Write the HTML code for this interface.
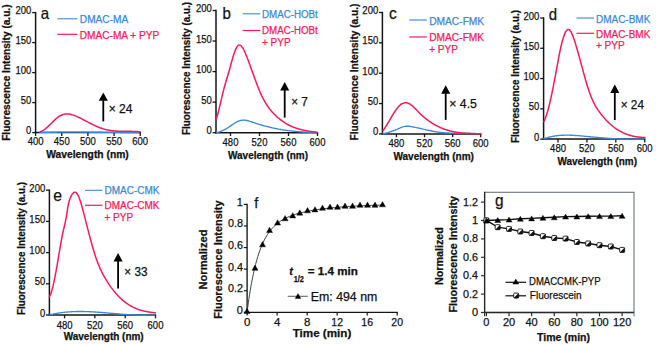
<!DOCTYPE html>
<html><head><meta charset="utf-8"><style>html,body{margin:0;padding:0;background:#fff;} svg{display:block;font-family:"Liberation Sans",sans-serif;}</style></head>
<body><svg width="656" height="345" viewBox="0 0 656 345">
<rect width="656" height="345" fill="#fff"/>
<line x1="35.60" y1="11.90" x2="35.60" y2="133.30" stroke="#151515" stroke-width="1.5"/>
<line x1="34.90" y1="132.60" x2="140.90" y2="132.60" stroke="#151515" stroke-width="1.5"/>
<line x1="32.20" y1="132.60" x2="35.60" y2="132.60" stroke="#151515" stroke-width="1.3"/>
<text x="31.40" y="134.10" font-size="11.5" text-anchor="end" font-weight="normal" fill="#111" stroke="#111" stroke-width="0.25" textLength="5.28" lengthAdjust="spacingAndGlyphs" >0</text>
<line x1="32.20" y1="102.60" x2="35.60" y2="102.60" stroke="#151515" stroke-width="1.3"/>
<text x="31.40" y="104.10" font-size="11.5" text-anchor="end" font-weight="normal" fill="#111" stroke="#111" stroke-width="0.25" textLength="10.56" lengthAdjust="spacingAndGlyphs" >50</text>
<line x1="32.20" y1="72.60" x2="35.60" y2="72.60" stroke="#151515" stroke-width="1.3"/>
<text x="31.40" y="74.10" font-size="11.5" text-anchor="end" font-weight="normal" fill="#111" stroke="#111" stroke-width="0.25" textLength="15.85" lengthAdjust="spacingAndGlyphs" >100</text>
<line x1="32.20" y1="42.60" x2="35.60" y2="42.60" stroke="#151515" stroke-width="1.3"/>
<text x="31.40" y="44.10" font-size="11.5" text-anchor="end" font-weight="normal" fill="#111" stroke="#111" stroke-width="0.25" textLength="15.85" lengthAdjust="spacingAndGlyphs" >150</text>
<line x1="32.20" y1="12.60" x2="35.60" y2="12.60" stroke="#151515" stroke-width="1.3"/>
<text x="31.40" y="14.10" font-size="11.5" text-anchor="end" font-weight="normal" fill="#111" stroke="#111" stroke-width="0.25" textLength="15.85" lengthAdjust="spacingAndGlyphs" >200</text>
<line x1="35.60" y1="132.60" x2="35.60" y2="135.90" stroke="#151515" stroke-width="1.3"/>
<text x="35.60" y="145.40" font-size="11.5" text-anchor="middle" font-weight="normal" fill="#111" stroke="#111" stroke-width="0.25" textLength="15.85" lengthAdjust="spacingAndGlyphs" >400</text>
<line x1="61.75" y1="132.60" x2="61.75" y2="135.90" stroke="#151515" stroke-width="1.3"/>
<text x="61.75" y="145.40" font-size="11.5" text-anchor="middle" font-weight="normal" fill="#111" stroke="#111" stroke-width="0.25" textLength="15.85" lengthAdjust="spacingAndGlyphs" >450</text>
<line x1="87.90" y1="132.60" x2="87.90" y2="135.90" stroke="#151515" stroke-width="1.3"/>
<text x="87.90" y="145.40" font-size="11.5" text-anchor="middle" font-weight="normal" fill="#111" stroke="#111" stroke-width="0.25" textLength="15.85" lengthAdjust="spacingAndGlyphs" >500</text>
<line x1="114.05" y1="132.60" x2="114.05" y2="135.90" stroke="#151515" stroke-width="1.3"/>
<text x="114.05" y="145.40" font-size="11.5" text-anchor="middle" font-weight="normal" fill="#111" stroke="#111" stroke-width="0.25" textLength="15.85" lengthAdjust="spacingAndGlyphs" >550</text>
<line x1="140.20" y1="132.60" x2="140.20" y2="135.90" stroke="#151515" stroke-width="1.3"/>
<text x="140.20" y="145.40" font-size="11.5" text-anchor="middle" font-weight="normal" fill="#111" stroke="#111" stroke-width="0.25" textLength="15.85" lengthAdjust="spacingAndGlyphs" >600</text>
<text x="87.50" y="158.30" font-size="10" text-anchor="middle" font-weight="bold" fill="#111" stroke="#111" stroke-width="0.25" textLength="82.5" lengthAdjust="spacingAndGlyphs" >Wavelength (nm)</text>
<text transform="translate(9.80,72.65) rotate(-90)" font-size="10" text-anchor="middle" font-weight="bold" fill="#111" stroke="#111" stroke-width="0.25" textLength="136.3" lengthAdjust="spacingAndGlyphs">Fluorescence Intensity (a.u.)</text>
<text x="40.80" y="18.80" font-size="16.5" text-anchor="start" font-weight="normal" fill="#111" stroke="#111" stroke-width="0.25" textLength="8.34" lengthAdjust="spacingAndGlyphs" >a</text>
<line x1="57.30" y1="18.80" x2="77.30" y2="18.80" stroke="#3a88d8" stroke-width="1.1"/>
<text x="79.80" y="22.90" font-size="10" text-anchor="start" font-weight="normal" fill="#3a88d8" stroke="#3a88d8" stroke-width="0.25" textLength="48.5" lengthAdjust="spacingAndGlyphs" >DMAC-MA</text>
<line x1="57.30" y1="34.30" x2="77.30" y2="34.30" stroke="#f81a58" stroke-width="1.2"/>
<text x="79.80" y="38.80" font-size="10" text-anchor="start" font-weight="normal" fill="#f81a58" stroke="#f81a58" stroke-width="0.25" textLength="79.5" lengthAdjust="spacingAndGlyphs" >DMAC-MA + PYP</text>
<path d="M40.00,132.51 C40.17,132.50 40.67,132.49 41.00,132.48 C41.33,132.47 41.67,132.46 42.00,132.46 C42.33,132.45 42.67,132.44 43.00,132.43 C43.33,132.42 43.67,132.42 44.00,132.41 C44.33,132.40 44.67,132.39 45.00,132.39 C45.33,132.38 45.67,132.37 46.00,132.37 C46.33,132.36 46.67,132.35 47.00,132.35 C47.33,132.34 47.67,132.33 48.00,132.33 C48.33,132.32 48.67,132.31 49.00,132.31 C49.33,132.30 49.67,132.30 50.00,132.29 C50.33,132.29 50.67,132.28 51.00,132.28 C51.33,132.27 51.67,132.27 52.00,132.26 C52.33,132.26 52.67,132.25 53.00,132.25 C53.33,132.24 53.67,132.24 54.00,132.23 C54.33,132.23 54.67,132.22 55.00,132.22 C55.33,132.22 55.67,132.21 56.00,132.21 C56.33,132.20 56.67,132.20 57.00,132.20 C57.33,132.19 57.67,132.19 58.00,132.19 C58.33,132.18 58.67,132.18 59.00,132.18 C59.33,132.18 59.67,132.17 60.00,132.17 C60.33,132.17 60.67,132.16 61.00,132.16 C61.33,132.16 61.67,132.16 62.00,132.16 C62.33,132.15 62.67,132.15 63.00,132.15 C63.33,132.15 63.67,132.15 64.00,132.14 C64.33,132.14 64.67,132.14 65.00,132.14 C65.33,132.14 65.67,132.14 66.00,132.13 C66.33,132.13 66.67,132.13 67.00,132.13 C67.33,132.13 67.67,132.13 68.00,132.13 C68.33,132.13 68.67,132.13 69.00,132.13 C69.33,132.13 69.67,132.13 70.00,132.13 C70.33,132.12 70.67,132.12 71.00,132.12 C71.33,132.12 71.67,132.12 72.00,132.12 C72.33,132.12 72.67,132.12 73.00,132.12 C73.33,132.12 73.67,132.12 74.00,132.13 C74.33,132.13 74.67,132.13 75.00,132.13 C75.33,132.13 75.67,132.13 76.00,132.13 C76.33,132.13 76.67,132.13 77.00,132.13 C77.33,132.13 77.67,132.13 78.00,132.13 C78.33,132.13 78.67,132.14 79.00,132.14 C79.33,132.14 79.67,132.14 80.00,132.14 C80.33,132.14 80.67,132.14 81.00,132.14 C81.33,132.15 81.67,132.15 82.00,132.15 C82.33,132.15 82.67,132.15 83.00,132.15 C83.33,132.16 83.67,132.16 84.00,132.16 C84.33,132.16 84.67,132.16 85.00,132.16 C85.33,132.17 85.67,132.17 86.00,132.17 C86.33,132.17 86.67,132.18 87.00,132.18 C87.33,132.18 87.67,132.18 88.00,132.18 C88.33,132.19 88.67,132.19 89.00,132.19 C89.33,132.19 89.67,132.20 90.00,132.20 C90.33,132.20 90.67,132.20 91.00,132.21 C91.33,132.21 91.67,132.21 92.00,132.21 C92.33,132.22 92.67,132.22 93.00,132.22 C93.33,132.22 93.67,132.23 94.00,132.23 C94.33,132.23 94.67,132.23 95.00,132.24 C95.33,132.24 95.67,132.24 96.00,132.25 C96.33,132.25 96.67,132.25 97.00,132.25 C97.33,132.26 97.67,132.26 98.00,132.26 C98.33,132.26 98.67,132.27 99.00,132.27 C99.33,132.27 99.67,132.28 100.00,132.28 C100.33,132.28 100.67,132.29 101.00,132.29 C101.33,132.29 101.67,132.29 102.00,132.30 C102.33,132.30 102.67,132.30 103.00,132.31 C103.33,132.31 103.67,132.31 104.00,132.32 C104.33,132.32 104.67,132.32 105.00,132.32 C105.33,132.33 105.67,132.33 106.00,132.33 C106.33,132.34 106.67,132.34 107.00,132.34 C107.33,132.34 107.67,132.35 108.00,132.35 C108.33,132.35 108.67,132.36 109.00,132.36 C109.33,132.36 109.67,132.37 110.00,132.37 C110.33,132.37 110.67,132.37 111.00,132.38 C111.33,132.38 111.67,132.38 112.00,132.39 C112.33,132.39 112.67,132.39 113.00,132.39 C113.33,132.40 113.67,132.40 114.00,132.40 C114.33,132.40 114.67,132.41 115.00,132.41 C115.33,132.41 115.67,132.41 116.00,132.42 C116.33,132.42 116.67,132.42 117.00,132.43 C117.33,132.43 117.67,132.43 118.00,132.43 C118.33,132.43 118.67,132.44 119.00,132.44 C119.33,132.44 119.67,132.44 120.00,132.45 C120.33,132.45 120.67,132.45 121.00,132.45 C121.33,132.45 121.67,132.46 122.00,132.46 C122.33,132.46 122.67,132.46 123.00,132.46 C123.33,132.47 123.67,132.47 124.00,132.47 C124.33,132.47 124.67,132.47 125.00,132.48 C125.33,132.48 125.67,132.48 126.00,132.48 C126.33,132.48 126.67,132.48 127.00,132.49 C127.33,132.49 127.67,132.49 128.00,132.49 C128.33,132.49 128.67,132.49 129.00,132.49 C129.33,132.49 129.67,132.50 130.00,132.50 C130.33,132.50 130.67,132.50 131.00,132.50 C131.33,132.50 131.67,132.50 132.00,132.50 C132.33,132.50 132.67,132.50 133.00,132.50 C133.33,132.50 133.67,132.50 134.00,132.50 C134.33,132.50 134.67,132.50 135.00,132.50 C135.33,132.50 135.67,132.51 136.00,132.51 C136.33,132.50 136.67,132.50 137.00,132.50 C137.33,132.50 137.67,132.50 138.00,132.50 C138.33,132.50 138.83,132.50 139.00,132.50" fill="none" stroke="#3a88d8" stroke-width="1.35" stroke-linejoin="round" stroke-linecap="round"/>
<path d="M40.40,131.63 C40.52,131.59 40.88,131.48 41.12,131.39 C41.35,131.30 41.59,131.20 41.83,131.09 C42.07,130.98 42.31,130.86 42.55,130.73 C42.78,130.60 43.02,130.46 43.26,130.32 C43.50,130.17 43.74,130.02 43.98,129.86 C44.21,129.69 44.45,129.52 44.69,129.35 C44.93,129.17 45.17,128.99 45.41,128.80 C45.64,128.61 45.88,128.42 46.12,128.22 C46.36,128.02 46.60,127.81 46.84,127.60 C47.07,127.39 47.31,127.18 47.55,126.96 C47.79,126.74 48.03,126.52 48.27,126.29 C48.50,126.07 48.74,125.84 48.98,125.61 C49.22,125.38 49.46,125.14 49.70,124.91 C49.93,124.67 50.17,124.44 50.41,124.20 C50.65,123.96 50.89,123.72 51.13,123.48 C51.36,123.25 51.60,123.01 51.84,122.77 C52.08,122.53 52.32,122.29 52.56,122.05 C52.80,121.82 53.03,121.58 53.27,121.35 C53.51,121.11 53.75,120.88 53.99,120.65 C54.23,120.42 54.46,120.19 54.70,119.97 C54.94,119.75 55.18,119.53 55.42,119.31 C55.66,119.09 55.89,118.88 56.13,118.68 C56.37,118.47 56.61,118.27 56.85,118.07 C57.09,117.87 57.32,117.68 57.56,117.49 C57.80,117.31 58.04,117.13 58.28,116.96 C58.52,116.79 58.75,116.62 58.99,116.46 C59.23,116.30 59.47,116.15 59.71,116.01 C59.95,115.87 60.18,115.74 60.42,115.61 C60.66,115.49 60.90,115.37 61.14,115.26 C61.38,115.15 61.61,115.05 61.85,114.95 C62.09,114.86 62.33,114.77 62.57,114.69 C62.81,114.61 63.05,114.54 63.28,114.47 C63.52,114.41 63.76,114.35 64.00,114.30 C64.24,114.24 64.48,114.20 64.71,114.16 C64.95,114.12 65.19,114.09 65.43,114.06 C65.67,114.03 65.91,114.01 66.14,114.00 C66.38,113.99 66.62,113.98 66.86,113.97 C67.10,113.97 67.34,113.97 67.57,113.98 C67.81,113.99 68.05,114.00 68.29,114.02 C68.53,114.04 68.77,114.07 69.00,114.09 C69.24,114.12 69.48,114.16 69.72,114.20 C69.96,114.23 70.20,114.28 70.43,114.32 C70.67,114.37 70.91,114.42 71.15,114.48 C71.39,114.54 71.63,114.60 71.86,114.66 C72.10,114.72 72.34,114.79 72.58,114.86 C72.82,114.93 73.06,115.01 73.29,115.09 C73.53,115.17 73.77,115.25 74.01,115.33 C74.25,115.42 74.49,115.51 74.73,115.60 C74.96,115.69 75.20,115.78 75.44,115.88 C75.68,115.97 75.92,116.07 76.16,116.17 C76.39,116.28 76.63,116.38 76.87,116.49 C77.11,116.59 77.35,116.70 77.59,116.81 C77.82,116.92 78.06,117.03 78.30,117.14 C78.54,117.26 78.78,117.37 79.02,117.49 C79.25,117.60 79.49,117.72 79.73,117.84 C79.97,117.96 80.21,118.08 80.45,118.20 C80.68,118.32 80.92,118.44 81.16,118.56 C81.40,118.68 81.64,118.80 81.88,118.92 C82.11,119.05 82.35,119.17 82.59,119.29 C82.83,119.42 83.07,119.54 83.31,119.67 C83.54,119.79 83.78,119.91 84.02,120.04 C84.26,120.16 84.50,120.29 84.74,120.41 C84.98,120.54 85.21,120.67 85.45,120.79 C85.69,120.92 85.93,121.04 86.17,121.17 C86.41,121.29 86.64,121.42 86.88,121.54 C87.12,121.67 87.36,121.79 87.60,121.92 C87.84,122.04 88.07,122.17 88.31,122.29 C88.55,122.42 88.79,122.54 89.03,122.66 C89.27,122.79 89.50,122.91 89.74,123.03 C89.98,123.16 90.22,123.28 90.46,123.40 C90.70,123.52 90.93,123.64 91.17,123.76 C91.41,123.88 91.65,124.00 91.89,124.12 C92.13,124.24 92.36,124.36 92.60,124.48 C92.84,124.60 93.08,124.71 93.32,124.83 C93.56,124.94 93.79,125.06 94.03,125.17 C94.27,125.29 94.51,125.40 94.75,125.51 C94.99,125.62 95.22,125.73 95.46,125.84 C95.70,125.95 95.94,126.06 96.18,126.17 C96.42,126.27 96.66,126.38 96.89,126.48 C97.13,126.59 97.37,126.69 97.61,126.79 C97.85,126.89 98.09,126.99 98.32,127.09 C98.56,127.19 98.80,127.28 99.04,127.38 C99.28,127.47 99.52,127.57 99.75,127.66 C99.99,127.75 100.23,127.84 100.47,127.93 C100.71,128.02 100.95,128.10 101.18,128.19 C101.42,128.27 101.66,128.35 101.90,128.43 C102.14,128.51 102.38,128.59 102.61,128.67 C102.85,128.74 103.09,128.82 103.33,128.89 C103.57,128.96 103.81,129.03 104.04,129.10 C104.28,129.17 104.52,129.23 104.76,129.30 C105.00,129.36 105.24,129.42 105.47,129.48 C105.71,129.54 105.95,129.60 106.19,129.65 C106.43,129.71 106.67,129.76 106.91,129.82 C107.14,129.87 107.38,129.92 107.62,129.97 C107.86,130.02 108.10,130.06 108.34,130.11 C108.57,130.15 108.81,130.20 109.05,130.24 C109.29,130.28 109.53,130.32 109.77,130.36 C110.00,130.40 110.24,130.43 110.48,130.47 C110.72,130.51 110.96,130.54 111.20,130.57 C111.43,130.60 111.67,130.64 111.91,130.67 C112.15,130.70 112.39,130.72 112.63,130.75 C112.86,130.78 113.10,130.80 113.34,130.83 C113.58,130.85 113.82,130.88 114.06,130.90 C114.29,130.92 114.53,130.94 114.77,130.96 C115.01,130.98 115.25,131.00 115.49,131.02 C115.72,131.04 115.96,131.05 116.20,131.07 C116.44,131.08 116.68,131.10 116.92,131.11 C117.15,131.13 117.39,131.14 117.63,131.15 C117.87,131.16 118.11,131.18 118.35,131.19 C118.59,131.20 118.82,131.21 119.06,131.21 C119.30,131.22 119.54,131.23 119.78,131.24 C120.02,131.25 120.25,131.25 120.49,131.26 C120.73,131.27 120.97,131.27 121.21,131.28 C121.45,131.28 121.68,131.29 121.92,131.29 C122.16,131.30 122.40,131.30 122.64,131.30 C122.88,131.31 123.11,131.31 123.35,131.31 C123.59,131.31 123.83,131.32 124.07,131.32 C124.31,131.32 124.54,131.32 124.78,131.32 C125.02,131.33 125.26,131.33 125.50,131.33 C125.74,131.33 125.97,131.33 126.21,131.33 C126.45,131.33 126.69,131.33 126.93,131.33 C127.17,131.34 127.40,131.34 127.64,131.34 C127.88,131.34 128.12,131.34 128.36,131.34 C128.60,131.34 128.84,131.34 129.07,131.34 C129.31,131.35 129.55,131.35 129.79,131.35 C130.03,131.35 130.27,131.35 130.50,131.36 C130.74,131.36 130.98,131.36 131.22,131.36 C131.46,131.37 131.70,131.37 131.93,131.37 C132.17,131.38 132.41,131.38 132.65,131.39 C132.89,131.39 133.13,131.40 133.36,131.40 C133.60,131.41 133.84,131.42 134.08,131.42 C134.32,131.43 134.56,131.44 134.79,131.45 C135.03,131.46 135.27,131.46 135.51,131.47 C135.75,131.48 135.99,131.50 136.22,131.51 C136.46,131.52 136.70,131.53 136.94,131.54 C137.18,131.56 137.42,131.57 137.65,131.59 C137.89,131.60 138.13,131.62 138.37,131.64 C138.61,131.65 138.85,131.67 139.08,131.69 C139.32,131.71 139.68,131.74 139.80,131.75" fill="none" stroke="#f81a58" stroke-width="1.5" stroke-linejoin="round" stroke-linecap="round"/>
<line x1="103.30" y1="100.30" x2="103.30" y2="121.40" stroke="#000" stroke-width="1.8"/>
<path d="M103.30,92.40 L107.85,100.80 L98.75,100.80 Z" fill="#000"/>
<text x="108.70" y="112.60" font-size="12" text-anchor="start" font-weight="normal" fill="#111" stroke="#111" stroke-width="0.25" textLength="23.8" lengthAdjust="spacingAndGlyphs" >× 24</text>
<line x1="216.00" y1="9.80" x2="216.00" y2="133.40" stroke="#151515" stroke-width="1.5"/>
<line x1="215.30" y1="132.70" x2="318.20" y2="132.70" stroke="#151515" stroke-width="1.5"/>
<line x1="212.60" y1="132.70" x2="216.00" y2="132.70" stroke="#151515" stroke-width="1.3"/>
<text x="211.80" y="134.20" font-size="11.5" text-anchor="end" font-weight="normal" fill="#111" stroke="#111" stroke-width="0.25" textLength="5.28" lengthAdjust="spacingAndGlyphs" >0</text>
<line x1="212.60" y1="102.15" x2="216.00" y2="102.15" stroke="#151515" stroke-width="1.3"/>
<text x="211.80" y="103.65" font-size="11.5" text-anchor="end" font-weight="normal" fill="#111" stroke="#111" stroke-width="0.25" textLength="10.56" lengthAdjust="spacingAndGlyphs" >50</text>
<line x1="212.60" y1="71.60" x2="216.00" y2="71.60" stroke="#151515" stroke-width="1.3"/>
<text x="211.80" y="73.10" font-size="11.5" text-anchor="end" font-weight="normal" fill="#111" stroke="#111" stroke-width="0.25" textLength="15.85" lengthAdjust="spacingAndGlyphs" >100</text>
<line x1="212.60" y1="41.05" x2="216.00" y2="41.05" stroke="#151515" stroke-width="1.3"/>
<text x="211.80" y="42.55" font-size="11.5" text-anchor="end" font-weight="normal" fill="#111" stroke="#111" stroke-width="0.25" textLength="15.85" lengthAdjust="spacingAndGlyphs" >150</text>
<line x1="212.60" y1="10.50" x2="216.00" y2="10.50" stroke="#151515" stroke-width="1.3"/>
<text x="211.80" y="12.00" font-size="11.5" text-anchor="end" font-weight="normal" fill="#111" stroke="#111" stroke-width="0.25" textLength="15.85" lengthAdjust="spacingAndGlyphs" >200</text>
<line x1="230.50" y1="132.70" x2="230.50" y2="136.00" stroke="#151515" stroke-width="1.3"/>
<text x="230.50" y="146.20" font-size="11.5" text-anchor="middle" font-weight="normal" fill="#111" stroke="#111" stroke-width="0.25" textLength="15.85" lengthAdjust="spacingAndGlyphs" >480</text>
<line x1="259.50" y1="132.70" x2="259.50" y2="136.00" stroke="#151515" stroke-width="1.3"/>
<text x="259.50" y="146.20" font-size="11.5" text-anchor="middle" font-weight="normal" fill="#111" stroke="#111" stroke-width="0.25" textLength="15.85" lengthAdjust="spacingAndGlyphs" >520</text>
<line x1="288.50" y1="132.70" x2="288.50" y2="136.00" stroke="#151515" stroke-width="1.3"/>
<text x="288.50" y="146.20" font-size="11.5" text-anchor="middle" font-weight="normal" fill="#111" stroke="#111" stroke-width="0.25" textLength="15.85" lengthAdjust="spacingAndGlyphs" >560</text>
<line x1="317.50" y1="132.70" x2="317.50" y2="136.00" stroke="#151515" stroke-width="1.3"/>
<text x="317.50" y="146.20" font-size="11.5" text-anchor="middle" font-weight="normal" fill="#111" stroke="#111" stroke-width="0.25" textLength="15.85" lengthAdjust="spacingAndGlyphs" >600</text>
<text x="268.00" y="159.00" font-size="10" text-anchor="middle" font-weight="bold" fill="#111" stroke="#111" stroke-width="0.25" textLength="80" lengthAdjust="spacingAndGlyphs" >Wavelength (nm)</text>
<text transform="translate(190.40,68.50) rotate(-90)" font-size="10" text-anchor="middle" font-weight="bold" fill="#111" stroke="#111" stroke-width="0.25" textLength="133.1" lengthAdjust="spacingAndGlyphs">Fluorescence Intensity (a.u.)</text>
<text x="222.50" y="19.40" font-size="16" text-anchor="start" font-weight="normal" fill="#111" stroke="#111" stroke-width="0.25" textLength="8.34" lengthAdjust="spacingAndGlyphs" >b</text>
<line x1="242.70" y1="13.80" x2="260.30" y2="13.80" stroke="#3a88d8" stroke-width="1.1"/>
<text x="262.00" y="18.40" font-size="10" text-anchor="start" font-weight="normal" fill="#3a88d8" stroke="#3a88d8" stroke-width="0.25" textLength="55.75" lengthAdjust="spacingAndGlyphs" >DMAC-HOBt</text>
<line x1="242.70" y1="30.50" x2="260.30" y2="30.50" stroke="#f81a58" stroke-width="1.2"/>
<text x="262.00" y="34.30" font-size="10" text-anchor="start" font-weight="normal" fill="#f81a58" stroke="#f81a58" stroke-width="0.25" textLength="55.75" lengthAdjust="spacingAndGlyphs" >DMAC-HOBt</text>
<text x="262.00" y="46.00" font-size="10" text-anchor="start" font-weight="normal" fill="#f81a58" stroke="#f81a58" stroke-width="0.25" >+ PYP</text>
<path d="M216.50,132.48 C216.67,132.45 217.18,132.37 217.52,132.31 C217.86,132.24 218.20,132.17 218.54,132.08 C218.88,132.00 219.22,131.91 219.55,131.80 C219.89,131.70 220.23,131.59 220.57,131.47 C220.91,131.35 221.25,131.23 221.59,131.09 C221.93,130.96 222.27,130.81 222.61,130.66 C222.95,130.51 223.29,130.35 223.63,130.19 C223.97,130.03 224.31,129.85 224.65,129.67 C224.98,129.50 225.32,129.31 225.66,129.12 C226.00,128.93 226.34,128.73 226.68,128.52 C227.02,128.32 227.36,128.11 227.70,127.89 C228.04,127.68 228.38,127.45 228.72,127.23 C229.06,127.00 229.40,126.77 229.74,126.54 C230.08,126.31 230.42,126.07 230.75,125.83 C231.09,125.60 231.43,125.36 231.77,125.12 C232.11,124.89 232.45,124.65 232.79,124.42 C233.13,124.19 233.47,123.96 233.81,123.74 C234.15,123.52 234.49,123.30 234.83,123.08 C235.17,122.87 235.51,122.67 235.85,122.47 C236.18,122.27 236.52,122.08 236.86,121.90 C237.20,121.73 237.54,121.56 237.88,121.40 C238.22,121.25 238.56,121.10 238.90,120.97 C239.24,120.84 239.58,120.73 239.92,120.63 C240.26,120.53 240.60,120.44 240.94,120.37 C241.28,120.30 241.62,120.25 241.95,120.21 C242.29,120.17 242.63,120.15 242.97,120.14 C243.31,120.13 243.65,120.13 243.99,120.14 C244.33,120.15 244.67,120.18 245.01,120.21 C245.35,120.24 245.69,120.29 246.03,120.34 C246.37,120.40 246.71,120.46 247.05,120.53 C247.38,120.60 247.72,120.68 248.06,120.76 C248.40,120.85 248.74,120.94 249.08,121.03 C249.42,121.13 249.76,121.23 250.10,121.34 C250.44,121.44 250.78,121.55 251.12,121.66 C251.46,121.78 251.80,121.89 252.14,122.01 C252.48,122.12 252.82,122.24 253.15,122.36 C253.49,122.47 253.83,122.59 254.17,122.71 C254.51,122.82 254.85,122.94 255.19,123.05 C255.53,123.17 255.87,123.28 256.21,123.39 C256.55,123.50 256.89,123.61 257.23,123.72 C257.57,123.83 257.91,123.94 258.25,124.05 C258.58,124.15 258.92,124.26 259.26,124.36 C259.60,124.47 259.94,124.57 260.28,124.67 C260.62,124.77 260.96,124.88 261.30,124.98 C261.64,125.08 261.98,125.17 262.32,125.27 C262.66,125.37 263.00,125.47 263.34,125.56 C263.68,125.66 264.02,125.75 264.35,125.84 C264.69,125.94 265.03,126.03 265.37,126.12 C265.71,126.21 266.05,126.30 266.39,126.39 C266.73,126.48 267.07,126.56 267.41,126.65 C267.75,126.73 268.09,126.82 268.43,126.90 C268.77,126.99 269.11,127.07 269.45,127.15 C269.78,127.23 270.12,127.32 270.46,127.40 C270.80,127.48 271.14,127.55 271.48,127.63 C271.82,127.71 272.16,127.79 272.50,127.86 C272.84,127.94 273.18,128.01 273.52,128.08 C273.86,128.16 274.20,128.23 274.54,128.30 C274.88,128.37 275.22,128.44 275.55,128.51 C275.89,128.58 276.23,128.65 276.57,128.72 C276.91,128.78 277.25,128.85 277.59,128.91 C277.93,128.98 278.27,129.04 278.61,129.11 C278.95,129.17 279.29,129.23 279.63,129.29 C279.97,129.35 280.31,129.41 280.65,129.47 C280.98,129.53 281.32,129.59 281.66,129.65 C282.00,129.70 282.34,129.76 282.68,129.81 C283.02,129.87 283.36,129.92 283.70,129.98 C284.04,130.03 284.38,130.08 284.72,130.13 C285.06,130.19 285.40,130.24 285.74,130.28 C286.08,130.33 286.42,130.38 286.75,130.43 C287.09,130.48 287.43,130.52 287.77,130.57 C288.11,130.62 288.45,130.66 288.79,130.70 C289.13,130.75 289.47,130.79 289.81,130.83 C290.15,130.87 290.49,130.91 290.83,130.95 C291.17,130.99 291.51,131.03 291.85,131.07 C292.18,131.11 292.52,131.15 292.86,131.18 C293.20,131.22 293.54,131.26 293.88,131.29 C294.22,131.33 294.56,131.36 294.90,131.39 C295.24,131.43 295.58,131.46 295.92,131.49 C296.26,131.52 296.60,131.55 296.94,131.58 C297.28,131.61 297.62,131.64 297.95,131.67 C298.29,131.69 298.63,131.72 298.97,131.75 C299.31,131.77 299.65,131.80 299.99,131.82 C300.33,131.85 300.67,131.87 301.01,131.89 C301.35,131.92 301.69,131.94 302.03,131.96 C302.37,131.98 302.71,132.00 303.05,132.02 C303.38,132.04 303.72,132.06 304.06,132.08 C304.40,132.09 304.74,132.11 305.08,132.13 C305.42,132.14 305.76,132.16 306.10,132.17 C306.44,132.19 306.78,132.20 307.12,132.22 C307.46,132.23 307.80,132.24 308.14,132.25 C308.48,132.27 308.82,132.28 309.15,132.29 C309.49,132.30 309.83,132.31 310.17,132.31 C310.51,132.32 310.85,132.33 311.19,132.34 C311.53,132.35 311.87,132.35 312.21,132.36 C312.55,132.36 312.89,132.37 313.23,132.37 C313.57,132.38 313.91,132.38 314.25,132.38 C314.58,132.39 314.92,132.39 315.26,132.39 C315.60,132.39 315.94,132.39 316.28,132.39 C316.62,132.39 317.13,132.39 317.30,132.39" fill="none" stroke="#3a88d8" stroke-width="1.35" stroke-linejoin="round" stroke-linecap="round"/>
<path d="M216.00,120.02 C216.12,119.64 216.48,118.55 216.73,117.76 C216.97,116.97 217.21,116.13 217.45,115.26 C217.70,114.39 217.94,113.48 218.18,112.56 C218.42,111.63 218.66,110.67 218.91,109.69 C219.15,108.72 219.39,107.71 219.63,106.71 C219.88,105.70 220.12,104.67 220.36,103.64 C220.60,102.61 220.84,101.57 221.09,100.54 C221.33,99.50 221.57,98.46 221.81,97.43 C222.06,96.41 222.30,95.38 222.54,94.38 C222.78,93.37 223.02,92.37 223.27,91.40 C223.51,90.43 223.75,89.47 223.99,88.55 C224.24,87.62 224.48,86.72 224.72,85.84 C224.96,84.96 225.20,84.10 225.45,83.25 C225.69,82.40 225.93,81.57 226.17,80.74 C226.41,79.92 226.66,79.10 226.90,78.29 C227.14,77.48 227.38,76.68 227.63,75.87 C227.87,75.06 228.11,74.26 228.35,73.45 C228.59,72.63 228.84,71.82 229.08,70.99 C229.32,70.16 229.56,69.33 229.81,68.47 C230.05,67.62 230.29,66.75 230.53,65.86 C230.77,64.98 231.02,64.07 231.26,63.18 C231.50,62.28 231.74,61.38 231.99,60.50 C232.23,59.62 232.47,58.76 232.71,57.92 C232.95,57.09 233.20,56.27 233.44,55.49 C233.68,54.71 233.92,53.96 234.17,53.25 C234.41,52.53 234.65,51.85 234.89,51.21 C235.13,50.57 235.38,49.96 235.62,49.41 C235.86,48.85 236.10,48.34 236.35,47.88 C236.59,47.42 236.83,47.01 237.07,46.65 C237.31,46.30 237.56,45.99 237.80,45.75 C238.04,45.51 238.28,45.33 238.53,45.20 C238.77,45.08 239.01,45.01 239.25,45.00 C239.49,44.98 239.74,45.02 239.98,45.10 C240.22,45.19 240.46,45.33 240.71,45.50 C240.95,45.68 241.19,45.91 241.43,46.17 C241.67,46.43 241.92,46.73 242.16,47.07 C242.40,47.40 242.64,47.78 242.88,48.18 C243.13,48.58 243.37,49.02 243.61,49.48 C243.85,49.94 244.10,50.44 244.34,50.95 C244.58,51.46 244.82,52.00 245.06,52.55 C245.31,53.10 245.55,53.67 245.79,54.26 C246.03,54.84 246.28,55.44 246.52,56.05 C246.76,56.66 247.00,57.28 247.24,57.91 C247.49,58.53 247.73,59.17 247.97,59.81 C248.21,60.45 248.46,61.10 248.70,61.75 C248.94,62.40 249.18,63.06 249.42,63.72 C249.67,64.38 249.91,65.05 250.15,65.72 C250.39,66.39 250.64,67.06 250.88,67.74 C251.12,68.41 251.36,69.09 251.60,69.77 C251.85,70.44 252.09,71.12 252.33,71.80 C252.57,72.48 252.82,73.16 253.06,73.84 C253.30,74.52 253.54,75.19 253.78,75.87 C254.03,76.54 254.27,77.22 254.51,77.88 C254.75,78.55 255.00,79.22 255.24,79.88 C255.48,80.54 255.72,81.20 255.96,81.85 C256.21,82.50 256.45,83.15 256.69,83.78 C256.93,84.42 257.18,85.06 257.42,85.68 C257.66,86.31 257.90,86.92 258.14,87.53 C258.39,88.14 258.63,88.74 258.87,89.33 C259.11,89.92 259.35,90.50 259.60,91.07 C259.84,91.64 260.08,92.20 260.32,92.74 C260.57,93.29 260.81,93.82 261.05,94.35 C261.29,94.87 261.53,95.38 261.78,95.89 C262.02,96.39 262.26,96.88 262.50,97.36 C262.75,97.84 262.99,98.31 263.23,98.78 C263.47,99.24 263.71,99.69 263.96,100.13 C264.20,100.57 264.44,101.00 264.68,101.43 C264.93,101.85 265.17,102.26 265.41,102.67 C265.65,103.07 265.89,103.47 266.14,103.86 C266.38,104.25 266.62,104.63 266.86,105.00 C267.11,105.37 267.35,105.73 267.59,106.09 C267.83,106.44 268.07,106.79 268.32,107.13 C268.56,107.47 268.80,107.80 269.04,108.13 C269.29,108.46 269.53,108.78 269.77,109.09 C270.01,109.40 270.25,109.71 270.50,110.01 C270.74,110.31 270.98,110.60 271.22,110.89 C271.47,111.18 271.71,111.46 271.95,111.74 C272.19,112.01 272.43,112.28 272.68,112.55 C272.92,112.82 273.16,113.08 273.40,113.33 C273.65,113.59 273.89,113.84 274.13,114.09 C274.37,114.34 274.61,114.58 274.86,114.82 C275.10,115.06 275.34,115.29 275.58,115.52 C275.82,115.75 276.07,115.98 276.31,116.20 C276.55,116.43 276.79,116.65 277.04,116.87 C277.28,117.08 277.52,117.30 277.76,117.51 C278.00,117.72 278.25,117.93 278.49,118.13 C278.73,118.34 278.97,118.54 279.22,118.73 C279.46,118.93 279.70,119.13 279.94,119.32 C280.18,119.51 280.43,119.70 280.67,119.88 C280.91,120.07 281.15,120.25 281.40,120.43 C281.64,120.61 281.88,120.79 282.12,120.96 C282.36,121.14 282.61,121.31 282.85,121.47 C283.09,121.64 283.33,121.81 283.58,121.97 C283.82,122.13 284.06,122.29 284.30,122.45 C284.54,122.60 284.79,122.76 285.03,122.91 C285.27,123.06 285.51,123.21 285.76,123.35 C286.00,123.50 286.24,123.64 286.48,123.78 C286.72,123.92 286.97,124.06 287.21,124.20 C287.45,124.33 287.69,124.47 287.94,124.60 C288.18,124.73 288.42,124.86 288.66,124.98 C288.90,125.11 289.15,125.23 289.39,125.35 C289.63,125.47 289.87,125.59 290.12,125.71 C290.36,125.82 290.60,125.94 290.84,126.05 C291.08,126.16 291.33,126.27 291.57,126.38 C291.81,126.49 292.05,126.59 292.29,126.69 C292.54,126.80 292.78,126.90 293.02,127.00 C293.26,127.10 293.51,127.19 293.75,127.29 C293.99,127.38 294.23,127.48 294.47,127.57 C294.72,127.66 294.96,127.75 295.20,127.83 C295.44,127.92 295.69,128.01 295.93,128.09 C296.17,128.17 296.41,128.26 296.65,128.34 C296.90,128.42 297.14,128.49 297.38,128.57 C297.62,128.65 297.87,128.72 298.11,128.80 C298.35,128.87 298.59,128.94 298.83,129.01 C299.08,129.08 299.32,129.15 299.56,129.22 C299.80,129.28 300.05,129.35 300.29,129.41 C300.53,129.48 300.77,129.54 301.01,129.60 C301.26,129.66 301.50,129.72 301.74,129.78 C301.98,129.84 302.23,129.89 302.47,129.95 C302.71,130.00 302.95,130.06 303.19,130.11 C303.44,130.17 303.68,130.22 303.92,130.27 C304.16,130.32 304.41,130.37 304.65,130.42 C304.89,130.46 305.13,130.51 305.37,130.56 C305.62,130.60 305.86,130.65 306.10,130.69 C306.34,130.74 306.59,130.78 306.83,130.82 C307.07,130.87 307.31,130.91 307.55,130.95 C307.80,130.99 308.04,131.03 308.28,131.07 C308.52,131.10 308.76,131.14 309.01,131.18 C309.25,131.22 309.49,131.25 309.73,131.29 C309.98,131.32 310.22,131.36 310.46,131.39 C310.70,131.43 310.94,131.46 311.19,131.49 C311.43,131.53 311.67,131.56 311.91,131.59 C312.16,131.62 312.40,131.66 312.64,131.69 C312.88,131.72 313.12,131.75 313.37,131.78 C313.61,131.81 313.85,131.84 314.09,131.87 C314.34,131.90 314.58,131.93 314.82,131.95 C315.06,131.98 315.30,132.01 315.55,132.04 C315.79,132.07 316.03,132.09 316.27,132.12 C316.52,132.15 316.88,132.19 317.00,132.20" fill="none" stroke="#f81a58" stroke-width="1.5" stroke-linejoin="round" stroke-linecap="round"/>
<line x1="284.70" y1="89.90" x2="284.70" y2="117.60" stroke="#000" stroke-width="1.8"/>
<path d="M284.70,82.00 L289.25,90.40 L280.15,90.40 Z" fill="#000"/>
<text x="291.20" y="106.00" font-size="12" text-anchor="start" font-weight="normal" fill="#111" stroke="#111" stroke-width="0.25" textLength="16.6" lengthAdjust="spacingAndGlyphs" >× 7</text>
<line x1="382.40" y1="11.80" x2="382.40" y2="134.60" stroke="#151515" stroke-width="1.5"/>
<line x1="381.70" y1="133.90" x2="481.40" y2="133.90" stroke="#151515" stroke-width="1.5"/>
<line x1="379.00" y1="133.90" x2="382.40" y2="133.90" stroke="#151515" stroke-width="1.3"/>
<text x="378.20" y="135.40" font-size="11.5" text-anchor="end" font-weight="normal" fill="#111" stroke="#111" stroke-width="0.25" textLength="5.28" lengthAdjust="spacingAndGlyphs" >0</text>
<line x1="379.00" y1="103.55" x2="382.40" y2="103.55" stroke="#151515" stroke-width="1.3"/>
<text x="378.20" y="105.05" font-size="11.5" text-anchor="end" font-weight="normal" fill="#111" stroke="#111" stroke-width="0.25" textLength="10.56" lengthAdjust="spacingAndGlyphs" >50</text>
<line x1="379.00" y1="73.20" x2="382.40" y2="73.20" stroke="#151515" stroke-width="1.3"/>
<text x="378.20" y="74.70" font-size="11.5" text-anchor="end" font-weight="normal" fill="#111" stroke="#111" stroke-width="0.25" textLength="15.85" lengthAdjust="spacingAndGlyphs" >100</text>
<line x1="379.00" y1="42.85" x2="382.40" y2="42.85" stroke="#151515" stroke-width="1.3"/>
<text x="378.20" y="44.35" font-size="11.5" text-anchor="end" font-weight="normal" fill="#111" stroke="#111" stroke-width="0.25" textLength="15.85" lengthAdjust="spacingAndGlyphs" >150</text>
<line x1="379.00" y1="12.50" x2="382.40" y2="12.50" stroke="#151515" stroke-width="1.3"/>
<text x="378.20" y="14.00" font-size="11.5" text-anchor="end" font-weight="normal" fill="#111" stroke="#111" stroke-width="0.25" textLength="15.85" lengthAdjust="spacingAndGlyphs" >200</text>
<line x1="396.44" y1="133.90" x2="396.44" y2="137.20" stroke="#151515" stroke-width="1.3"/>
<text x="396.44" y="147.00" font-size="11.5" text-anchor="middle" font-weight="normal" fill="#111" stroke="#111" stroke-width="0.25" textLength="15.85" lengthAdjust="spacingAndGlyphs" >480</text>
<line x1="424.53" y1="133.90" x2="424.53" y2="137.20" stroke="#151515" stroke-width="1.3"/>
<text x="424.53" y="147.00" font-size="11.5" text-anchor="middle" font-weight="normal" fill="#111" stroke="#111" stroke-width="0.25" textLength="15.85" lengthAdjust="spacingAndGlyphs" >520</text>
<line x1="452.61" y1="133.90" x2="452.61" y2="137.20" stroke="#151515" stroke-width="1.3"/>
<text x="452.61" y="147.00" font-size="11.5" text-anchor="middle" font-weight="normal" fill="#111" stroke="#111" stroke-width="0.25" textLength="15.85" lengthAdjust="spacingAndGlyphs" >560</text>
<line x1="480.70" y1="133.90" x2="480.70" y2="137.20" stroke="#151515" stroke-width="1.3"/>
<text x="480.70" y="147.00" font-size="11.5" text-anchor="middle" font-weight="normal" fill="#111" stroke="#111" stroke-width="0.25" textLength="15.85" lengthAdjust="spacingAndGlyphs" >600</text>
<text x="433.70" y="160.30" font-size="10" text-anchor="middle" font-weight="bold" fill="#111" stroke="#111" stroke-width="0.25" textLength="80.5" lengthAdjust="spacingAndGlyphs" >Wavelength (nm)</text>
<text transform="translate(357.90,72.00) rotate(-90)" font-size="10" text-anchor="middle" font-weight="bold" fill="#111" stroke="#111" stroke-width="0.25" textLength="136.9" lengthAdjust="spacingAndGlyphs">Fluorescence Intensity (a.u.)</text>
<text x="389.00" y="18.80" font-size="16.5" text-anchor="start" font-weight="normal" fill="#111" stroke="#111" stroke-width="0.25" textLength="7.7" lengthAdjust="spacingAndGlyphs" >c</text>
<line x1="409.20" y1="20.00" x2="426.80" y2="20.00" stroke="#3a88d8" stroke-width="1.1"/>
<text x="429.20" y="25.00" font-size="10" text-anchor="start" font-weight="normal" fill="#3a88d8" stroke="#3a88d8" stroke-width="0.25" textLength="55" lengthAdjust="spacingAndGlyphs" >DMAC-FMK</text>
<line x1="409.20" y1="37.00" x2="426.80" y2="37.00" stroke="#f81a58" stroke-width="1.2"/>
<text x="429.20" y="41.20" font-size="10" text-anchor="start" font-weight="normal" fill="#f81a58" stroke="#f81a58" stroke-width="0.25" textLength="55" lengthAdjust="spacingAndGlyphs" >DMAC-FMK</text>
<text x="429.20" y="53.00" font-size="10" text-anchor="start" font-weight="normal" fill="#f81a58" stroke="#f81a58" stroke-width="0.25" >+ PYP</text>
<path d="M383.00,133.89 C383.16,133.85 383.66,133.73 383.98,133.64 C384.31,133.56 384.64,133.47 384.97,133.39 C385.29,133.30 385.62,133.21 385.95,133.12 C386.28,133.02 386.60,132.93 386.93,132.83 C387.26,132.74 387.59,132.64 387.91,132.54 C388.24,132.44 388.57,132.34 388.90,132.24 C389.22,132.13 389.55,132.03 389.88,131.92 C390.21,131.81 390.54,131.70 390.86,131.59 C391.19,131.48 391.52,131.37 391.85,131.25 C392.17,131.14 392.50,131.02 392.83,130.90 C393.16,130.78 393.48,130.66 393.81,130.54 C394.14,130.42 394.47,130.29 394.79,130.16 C395.12,130.04 395.45,129.91 395.78,129.78 C396.10,129.65 396.43,129.51 396.76,129.38 C397.09,129.24 397.41,129.10 397.74,128.97 C398.07,128.83 398.40,128.68 398.73,128.54 C399.05,128.40 399.38,128.25 399.71,128.11 C400.04,127.96 400.36,127.81 400.69,127.67 C401.02,127.53 401.35,127.39 401.67,127.26 C402.00,127.13 402.33,127.01 402.66,126.90 C402.98,126.79 403.31,126.68 403.64,126.60 C403.97,126.51 404.29,126.44 404.62,126.39 C404.95,126.33 405.28,126.29 405.61,126.26 C405.93,126.23 406.26,126.21 406.59,126.21 C406.92,126.20 407.24,126.21 407.57,126.22 C407.90,126.23 408.23,126.26 408.55,126.29 C408.88,126.32 409.21,126.35 409.54,126.39 C409.86,126.43 410.19,126.48 410.52,126.53 C410.85,126.58 411.17,126.63 411.50,126.68 C411.83,126.73 412.16,126.79 412.48,126.85 C412.81,126.90 413.14,126.96 413.47,127.02 C413.80,127.08 414.12,127.14 414.45,127.20 C414.78,127.27 415.11,127.33 415.43,127.40 C415.76,127.46 416.09,127.53 416.42,127.60 C416.74,127.67 417.07,127.74 417.40,127.81 C417.73,127.88 418.05,127.95 418.38,128.02 C418.71,128.09 419.04,128.17 419.36,128.24 C419.69,128.31 420.02,128.39 420.35,128.46 C420.68,128.54 421.00,128.61 421.33,128.69 C421.66,128.76 421.99,128.84 422.31,128.92 C422.64,128.99 422.97,129.07 423.30,129.15 C423.62,129.22 423.95,129.30 424.28,129.38 C424.61,129.45 424.93,129.53 425.26,129.61 C425.59,129.68 425.92,129.76 426.24,129.83 C426.57,129.91 426.90,129.99 427.23,130.06 C427.55,130.14 427.88,130.21 428.21,130.28 C428.54,130.36 428.87,130.43 429.19,130.50 C429.52,130.57 429.85,130.65 430.18,130.72 C430.50,130.79 430.83,130.86 431.16,130.92 C431.49,130.99 431.81,131.06 432.14,131.13 C432.47,131.19 432.80,131.26 433.12,131.32 C433.45,131.38 433.78,131.44 434.11,131.50 C434.43,131.56 434.76,131.62 435.09,131.68 C435.42,131.74 435.75,131.79 436.07,131.84 C436.40,131.90 436.73,131.95 437.06,132.00 C437.38,132.05 437.71,132.09 438.04,132.14 C438.37,132.19 438.69,132.23 439.02,132.27 C439.35,132.31 439.68,132.35 440.00,132.39 C440.33,132.43 440.66,132.46 440.99,132.50 C441.31,132.53 441.64,132.56 441.97,132.60 C442.30,132.63 442.62,132.66 442.95,132.68 C443.28,132.71 443.61,132.74 443.94,132.76 C444.26,132.79 444.59,132.81 444.92,132.83 C445.25,132.86 445.57,132.88 445.90,132.90 C446.23,132.92 446.56,132.93 446.88,132.95 C447.21,132.97 447.54,132.98 447.87,133.00 C448.19,133.01 448.52,133.03 448.85,133.04 C449.18,133.05 449.50,133.07 449.83,133.08 C450.16,133.09 450.49,133.10 450.82,133.11 C451.14,133.11 451.47,133.12 451.80,133.13 C452.13,133.14 452.45,133.14 452.78,133.15 C453.11,133.16 453.44,133.16 453.76,133.17 C454.09,133.17 454.42,133.17 454.75,133.18 C455.07,133.18 455.40,133.19 455.73,133.19 C456.06,133.19 456.38,133.19 456.71,133.19 C457.04,133.20 457.37,133.20 457.69,133.20 C458.02,133.20 458.35,133.20 458.68,133.20 C459.01,133.20 459.33,133.20 459.66,133.20 C459.99,133.20 460.32,133.21 460.64,133.21 C460.97,133.21 461.30,133.21 461.63,133.21 C461.95,133.21 462.28,133.21 462.61,133.21 C462.94,133.21 463.26,133.21 463.59,133.21 C463.92,133.21 464.25,133.22 464.57,133.22 C464.90,133.22 465.23,133.22 465.56,133.22 C465.89,133.23 466.21,133.23 466.54,133.23 C466.87,133.24 467.20,133.24 467.52,133.24 C467.85,133.25 468.18,133.25 468.51,133.26 C468.83,133.27 469.16,133.27 469.49,133.28 C469.82,133.29 470.14,133.29 470.47,133.30 C470.80,133.31 471.13,133.32 471.45,133.33 C471.78,133.34 472.11,133.35 472.44,133.37 C472.76,133.38 473.09,133.39 473.42,133.41 C473.75,133.42 474.08,133.44 474.40,133.45 C474.73,133.47 475.06,133.49 475.39,133.51 C475.71,133.53 476.04,133.55 476.37,133.57 C476.70,133.59 477.02,133.62 477.35,133.64 C477.68,133.66 478.01,133.69 478.33,133.72 C478.66,133.75 478.99,133.77 479.32,133.81 C479.64,133.84 480.14,133.89 480.30,133.90" fill="none" stroke="#3a88d8" stroke-width="1.35" stroke-linejoin="round" stroke-linecap="round"/>
<path d="M383.00,130.68 C383.12,130.52 383.47,130.04 383.70,129.71 C383.93,129.38 384.17,129.03 384.40,128.69 C384.63,128.34 384.87,127.99 385.10,127.63 C385.33,127.27 385.57,126.90 385.80,126.53 C386.03,126.16 386.27,125.79 386.50,125.41 C386.73,125.03 386.97,124.64 387.20,124.26 C387.43,123.87 387.67,123.48 387.90,123.09 C388.13,122.70 388.37,122.30 388.60,121.91 C388.83,121.51 389.07,121.11 389.30,120.72 C389.53,120.32 389.77,119.92 390.00,119.52 C390.23,119.13 390.47,118.73 390.70,118.33 C390.93,117.93 391.17,117.54 391.40,117.15 C391.63,116.75 391.87,116.36 392.10,115.97 C392.33,115.58 392.57,115.20 392.80,114.82 C393.03,114.44 393.27,114.06 393.50,113.68 C393.73,113.31 393.97,112.94 394.20,112.58 C394.43,112.22 394.67,111.86 394.90,111.51 C395.13,111.16 395.37,110.81 395.60,110.48 C395.83,110.14 396.07,109.81 396.30,109.49 C396.53,109.16 396.77,108.85 397.00,108.54 C397.23,108.24 397.47,107.94 397.70,107.66 C397.93,107.37 398.17,107.09 398.40,106.83 C398.63,106.56 398.87,106.31 399.10,106.07 C399.33,105.82 399.57,105.59 399.80,105.37 C400.03,105.15 400.27,104.95 400.50,104.75 C400.73,104.56 400.97,104.38 401.20,104.21 C401.43,104.05 401.67,103.90 401.90,103.76 C402.13,103.62 402.37,103.50 402.60,103.39 C402.83,103.28 403.07,103.19 403.30,103.11 C403.53,103.02 403.77,102.96 404.00,102.90 C404.23,102.85 404.47,102.81 404.70,102.78 C404.93,102.75 405.17,102.73 405.40,102.73 C405.63,102.73 405.87,102.74 406.10,102.76 C406.33,102.78 406.57,102.81 406.80,102.85 C407.03,102.90 407.27,102.95 407.50,103.02 C407.73,103.09 407.97,103.16 408.20,103.25 C408.43,103.34 408.67,103.44 408.90,103.55 C409.13,103.66 409.37,103.78 409.60,103.91 C409.83,104.04 410.07,104.18 410.30,104.33 C410.53,104.48 410.77,104.64 411.00,104.81 C411.23,104.97 411.47,105.15 411.70,105.34 C411.93,105.52 412.17,105.72 412.40,105.92 C412.63,106.12 412.87,106.33 413.10,106.54 C413.33,106.76 413.57,106.98 413.80,107.20 C414.03,107.43 414.27,107.66 414.50,107.90 C414.73,108.13 414.97,108.37 415.20,108.61 C415.43,108.85 415.67,109.09 415.90,109.34 C416.13,109.58 416.37,109.83 416.60,110.07 C416.83,110.32 417.07,110.57 417.30,110.81 C417.53,111.05 417.77,111.30 418.00,111.54 C418.23,111.78 418.47,112.02 418.70,112.26 C418.93,112.49 419.17,112.73 419.40,112.96 C419.63,113.19 419.87,113.42 420.10,113.64 C420.33,113.87 420.57,114.09 420.80,114.31 C421.03,114.53 421.27,114.75 421.50,114.97 C421.73,115.19 421.97,115.40 422.20,115.61 C422.43,115.82 422.67,116.03 422.90,116.23 C423.13,116.44 423.37,116.64 423.60,116.85 C423.83,117.05 424.07,117.25 424.30,117.44 C424.53,117.64 424.77,117.83 425.00,118.02 C425.23,118.22 425.47,118.41 425.70,118.59 C425.93,118.78 426.17,118.96 426.40,119.15 C426.63,119.33 426.87,119.51 427.10,119.69 C427.33,119.86 427.57,120.04 427.80,120.21 C428.03,120.39 428.27,120.56 428.50,120.73 C428.73,120.90 428.97,121.06 429.20,121.23 C429.43,121.39 429.67,121.55 429.90,121.71 C430.13,121.87 430.37,122.03 430.60,122.19 C430.83,122.34 431.07,122.50 431.30,122.65 C431.53,122.80 431.77,122.95 432.00,123.10 C432.23,123.25 432.47,123.39 432.70,123.54 C432.93,123.68 433.17,123.82 433.40,123.96 C433.63,124.10 433.87,124.24 434.10,124.37 C434.33,124.51 434.57,124.64 434.80,124.77 C435.03,124.90 435.27,125.03 435.50,125.16 C435.73,125.29 435.97,125.42 436.20,125.54 C436.43,125.66 436.67,125.79 436.90,125.91 C437.13,126.03 437.37,126.14 437.60,126.26 C437.83,126.38 438.07,126.49 438.30,126.61 C438.53,126.72 438.77,126.83 439.00,126.94 C439.23,127.05 439.47,127.16 439.70,127.26 C439.93,127.37 440.17,127.47 440.40,127.57 C440.63,127.68 440.87,127.78 441.10,127.88 C441.33,127.97 441.57,128.07 441.80,128.17 C442.03,128.26 442.27,128.36 442.50,128.45 C442.73,128.54 442.97,128.63 443.20,128.72 C443.43,128.81 443.67,128.90 443.90,128.98 C444.13,129.07 444.37,129.16 444.60,129.24 C444.83,129.32 445.07,129.40 445.30,129.48 C445.53,129.56 445.77,129.64 446.00,129.72 C446.23,129.79 446.47,129.87 446.70,129.94 C446.93,130.02 447.17,130.09 447.40,130.16 C447.63,130.23 447.87,130.30 448.10,130.37 C448.33,130.44 448.57,130.51 448.80,130.57 C449.03,130.64 449.27,130.70 449.50,130.76 C449.73,130.83 449.97,130.89 450.20,130.95 C450.43,131.01 450.67,131.07 450.90,131.13 C451.13,131.18 451.37,131.24 451.60,131.29 C451.83,131.35 452.07,131.40 452.30,131.46 C452.53,131.51 452.77,131.56 453.00,131.61 C453.23,131.66 453.47,131.71 453.70,131.76 C453.93,131.81 454.17,131.85 454.40,131.90 C454.63,131.94 454.87,131.99 455.10,132.03 C455.33,132.07 455.57,132.12 455.80,132.16 C456.03,132.20 456.27,132.24 456.50,132.28 C456.73,132.32 456.97,132.36 457.20,132.39 C457.43,132.43 457.67,132.47 457.90,132.50 C458.13,132.54 458.37,132.57 458.60,132.60 C458.83,132.64 459.07,132.67 459.30,132.70 C459.53,132.73 459.77,132.76 460.00,132.79 C460.23,132.82 460.47,132.85 460.70,132.88 C460.93,132.90 461.17,132.93 461.40,132.96 C461.63,132.98 461.87,133.01 462.10,133.03 C462.33,133.06 462.57,133.08 462.80,133.10 C463.03,133.13 463.27,133.15 463.50,133.17 C463.73,133.19 463.97,133.21 464.20,133.23 C464.43,133.25 464.67,133.27 464.90,133.29 C465.13,133.31 465.37,133.32 465.60,133.34 C465.83,133.36 466.07,133.37 466.30,133.39 C466.53,133.41 466.77,133.42 467.00,133.44 C467.23,133.45 467.47,133.46 467.70,133.48 C467.93,133.49 468.17,133.50 468.40,133.51 C468.63,133.53 468.87,133.54 469.10,133.55 C469.33,133.56 469.57,133.57 469.80,133.58 C470.03,133.59 470.27,133.60 470.50,133.61 C470.73,133.62 470.97,133.63 471.20,133.64 C471.43,133.64 471.67,133.65 471.90,133.66 C472.13,133.67 472.37,133.67 472.60,133.68 C472.83,133.69 473.07,133.69 473.30,133.70 C473.53,133.71 473.77,133.71 474.00,133.72 C474.23,133.72 474.47,133.73 474.70,133.73 C474.93,133.74 475.17,133.74 475.40,133.74 C475.63,133.75 475.87,133.75 476.10,133.76 C476.33,133.76 476.57,133.76 476.80,133.77 C477.03,133.77 477.27,133.77 477.50,133.78 C477.73,133.78 477.97,133.78 478.20,133.78 C478.43,133.79 478.67,133.79 478.90,133.79 C479.13,133.79 479.37,133.80 479.60,133.80 C479.83,133.80 480.18,133.80 480.30,133.80" fill="none" stroke="#f81a58" stroke-width="1.5" stroke-linejoin="round" stroke-linecap="round"/>
<line x1="445.70" y1="93.20" x2="445.70" y2="119.90" stroke="#000" stroke-width="1.8"/>
<path d="M445.70,85.30 L450.25,93.70 L441.15,93.70 Z" fill="#000"/>
<text x="449.30" y="107.60" font-size="12" text-anchor="start" font-weight="normal" fill="#111" stroke="#111" stroke-width="0.25" textLength="27.6" lengthAdjust="spacingAndGlyphs" >× 4.5</text>
<line x1="543.60" y1="17.30" x2="543.60" y2="139.80" stroke="#151515" stroke-width="1.5"/>
<line x1="542.90" y1="139.10" x2="645.40" y2="139.10" stroke="#151515" stroke-width="1.5"/>
<line x1="540.20" y1="139.10" x2="543.60" y2="139.10" stroke="#151515" stroke-width="1.3"/>
<text x="539.40" y="140.60" font-size="11.5" text-anchor="end" font-weight="normal" fill="#111" stroke="#111" stroke-width="0.25" textLength="5.28" lengthAdjust="spacingAndGlyphs" >0</text>
<line x1="540.20" y1="108.82" x2="543.60" y2="108.82" stroke="#151515" stroke-width="1.3"/>
<text x="539.40" y="110.32" font-size="11.5" text-anchor="end" font-weight="normal" fill="#111" stroke="#111" stroke-width="0.25" textLength="10.56" lengthAdjust="spacingAndGlyphs" >50</text>
<line x1="540.20" y1="78.55" x2="543.60" y2="78.55" stroke="#151515" stroke-width="1.3"/>
<text x="539.40" y="80.05" font-size="11.5" text-anchor="end" font-weight="normal" fill="#111" stroke="#111" stroke-width="0.25" textLength="15.85" lengthAdjust="spacingAndGlyphs" >100</text>
<line x1="540.20" y1="48.27" x2="543.60" y2="48.27" stroke="#151515" stroke-width="1.3"/>
<text x="539.40" y="49.77" font-size="11.5" text-anchor="end" font-weight="normal" fill="#111" stroke="#111" stroke-width="0.25" textLength="15.85" lengthAdjust="spacingAndGlyphs" >150</text>
<line x1="540.20" y1="18.00" x2="543.60" y2="18.00" stroke="#151515" stroke-width="1.3"/>
<text x="539.40" y="19.50" font-size="11.5" text-anchor="end" font-weight="normal" fill="#111" stroke="#111" stroke-width="0.25" textLength="15.85" lengthAdjust="spacingAndGlyphs" >200</text>
<line x1="558.04" y1="139.10" x2="558.04" y2="142.40" stroke="#151515" stroke-width="1.3"/>
<text x="558.04" y="152.30" font-size="11.5" text-anchor="middle" font-weight="normal" fill="#111" stroke="#111" stroke-width="0.25" textLength="15.85" lengthAdjust="spacingAndGlyphs" >480</text>
<line x1="586.93" y1="139.10" x2="586.93" y2="142.40" stroke="#151515" stroke-width="1.3"/>
<text x="586.93" y="152.30" font-size="11.5" text-anchor="middle" font-weight="normal" fill="#111" stroke="#111" stroke-width="0.25" textLength="15.85" lengthAdjust="spacingAndGlyphs" >520</text>
<line x1="615.81" y1="139.10" x2="615.81" y2="142.40" stroke="#151515" stroke-width="1.3"/>
<text x="615.81" y="152.30" font-size="11.5" text-anchor="middle" font-weight="normal" fill="#111" stroke="#111" stroke-width="0.25" textLength="15.85" lengthAdjust="spacingAndGlyphs" >560</text>
<line x1="644.70" y1="139.10" x2="644.70" y2="142.40" stroke="#151515" stroke-width="1.3"/>
<text x="644.70" y="152.30" font-size="11.5" text-anchor="middle" font-weight="normal" fill="#111" stroke="#111" stroke-width="0.25" textLength="15.85" lengthAdjust="spacingAndGlyphs" >600</text>
<text x="597.20" y="164.50" font-size="10" text-anchor="middle" font-weight="bold" fill="#111" stroke="#111" stroke-width="0.25" textLength="79.5" lengthAdjust="spacingAndGlyphs" >Wavelength (nm)</text>
<text transform="translate(518.50,76.50) rotate(-90)" font-size="10" text-anchor="middle" font-weight="bold" fill="#111" stroke="#111" stroke-width="0.25" textLength="133.1" lengthAdjust="spacingAndGlyphs">Fluorescence Intensity (a.u.)</text>
<text x="548.80" y="20.00" font-size="16" text-anchor="start" font-weight="normal" fill="#111" stroke="#111" stroke-width="0.25" textLength="8.34" lengthAdjust="spacingAndGlyphs" >d</text>
<line x1="576.50" y1="18.00" x2="594.00" y2="18.00" stroke="#3a88d8" stroke-width="1.1"/>
<text x="596.00" y="22.50" font-size="10" text-anchor="start" font-weight="normal" fill="#3a88d8" stroke="#3a88d8" stroke-width="0.25" textLength="54.3" lengthAdjust="spacingAndGlyphs" >DMAC-BMK</text>
<line x1="576.50" y1="33.30" x2="594.00" y2="33.30" stroke="#f81a58" stroke-width="1.2"/>
<text x="596.00" y="37.60" font-size="10" text-anchor="start" font-weight="normal" fill="#f81a58" stroke="#f81a58" stroke-width="0.25" textLength="54.3" lengthAdjust="spacingAndGlyphs" >DMAC-BMK</text>
<text x="596.00" y="48.70" font-size="10" text-anchor="start" font-weight="normal" fill="#f81a58" stroke="#f81a58" stroke-width="0.25" >+ PYP</text>
<path d="M543.60,138.84 C543.77,138.78 544.28,138.59 544.62,138.48 C544.96,138.36 545.30,138.25 545.63,138.14 C545.97,138.03 546.31,137.93 546.65,137.82 C546.99,137.72 547.33,137.62 547.67,137.53 C548.01,137.43 548.35,137.34 548.69,137.25 C549.02,137.16 549.36,137.08 549.70,137.00 C550.04,136.91 550.38,136.84 550.72,136.76 C551.06,136.69 551.40,136.61 551.74,136.54 C552.08,136.47 552.42,136.41 552.75,136.34 C553.09,136.28 553.43,136.22 553.77,136.16 C554.11,136.11 554.45,136.05 554.79,136.00 C555.13,135.95 555.47,135.90 555.81,135.85 C556.15,135.80 556.48,135.76 556.82,135.72 C557.16,135.68 557.50,135.64 557.84,135.60 C558.18,135.57 558.52,135.53 558.86,135.50 C559.20,135.47 559.54,135.44 559.87,135.41 C560.21,135.39 560.55,135.36 560.89,135.34 C561.23,135.32 561.57,135.30 561.91,135.28 C562.25,135.26 562.59,135.25 562.93,135.23 C563.27,135.22 563.60,135.21 563.94,135.20 C564.28,135.19 564.62,135.18 564.96,135.18 C565.30,135.17 565.64,135.17 565.98,135.16 C566.32,135.16 566.66,135.16 566.99,135.16 C567.33,135.16 567.67,135.17 568.01,135.17 C568.35,135.18 568.69,135.18 569.03,135.19 C569.37,135.20 569.71,135.20 570.05,135.22 C570.39,135.23 570.72,135.24 571.06,135.25 C571.40,135.26 571.74,135.28 572.08,135.29 C572.42,135.31 572.76,135.33 573.10,135.34 C573.44,135.36 573.78,135.38 574.12,135.40 C574.45,135.42 574.79,135.44 575.13,135.46 C575.47,135.48 575.81,135.51 576.15,135.53 C576.49,135.55 576.83,135.58 577.17,135.60 C577.51,135.63 577.84,135.66 578.18,135.68 C578.52,135.71 578.86,135.74 579.20,135.76 C579.54,135.79 579.88,135.82 580.22,135.85 C580.56,135.88 580.90,135.91 581.24,135.94 C581.57,135.97 581.91,136.00 582.25,136.03 C582.59,136.06 582.93,136.09 583.27,136.12 C583.61,136.15 583.95,136.18 584.29,136.21 C584.63,136.25 584.96,136.28 585.30,136.31 C585.64,136.34 585.98,136.37 586.32,136.40 C586.66,136.43 587.00,136.47 587.34,136.50 C587.68,136.53 588.02,136.56 588.36,136.59 C588.69,136.62 589.03,136.66 589.37,136.69 C589.71,136.72 590.05,136.75 590.39,136.78 C590.73,136.81 591.07,136.84 591.41,136.88 C591.75,136.91 592.09,136.94 592.42,136.97 C592.76,137.00 593.10,137.03 593.44,137.06 C593.78,137.09 594.12,137.12 594.46,137.15 C594.80,137.19 595.14,137.22 595.48,137.25 C595.81,137.28 596.15,137.31 596.49,137.34 C596.83,137.37 597.17,137.40 597.51,137.43 C597.85,137.46 598.19,137.49 598.53,137.52 C598.87,137.55 599.21,137.57 599.54,137.60 C599.88,137.63 600.22,137.66 600.56,137.69 C600.90,137.72 601.24,137.75 601.58,137.78 C601.92,137.80 602.26,137.83 602.60,137.86 C602.94,137.89 603.27,137.91 603.61,137.94 C603.95,137.97 604.29,137.99 604.63,138.02 C604.97,138.05 605.31,138.07 605.65,138.10 C605.99,138.13 606.33,138.15 606.66,138.18 C607.00,138.20 607.34,138.23 607.68,138.25 C608.02,138.28 608.36,138.30 608.70,138.32 C609.04,138.35 609.38,138.37 609.72,138.39 C610.06,138.42 610.39,138.44 610.73,138.46 C611.07,138.48 611.41,138.50 611.75,138.53 C612.09,138.55 612.43,138.57 612.77,138.59 C613.11,138.61 613.45,138.63 613.78,138.65 C614.12,138.67 614.46,138.69 614.80,138.71 C615.14,138.72 615.48,138.74 615.82,138.76 C616.16,138.78 616.50,138.79 616.84,138.81 C617.18,138.83 617.51,138.84 617.85,138.86 C618.19,138.87 618.53,138.89 618.87,138.90 C619.21,138.92 619.55,138.93 619.89,138.95 C620.23,138.96 620.57,138.97 620.91,138.98 C621.24,139.00 621.58,139.01 621.92,139.02 C622.26,139.03 622.60,139.04 622.94,139.05 C623.28,139.06 623.62,139.07 623.96,139.08 C624.30,139.08 624.63,139.09 624.97,139.10 C625.31,139.11 625.65,139.11 625.99,139.12 C626.33,139.12 626.67,139.13 627.01,139.13 C627.35,139.14 627.69,139.14 628.03,139.14 C628.36,139.15 628.70,139.15 629.04,139.15 C629.38,139.15 629.72,139.15 630.06,139.15 C630.40,139.15 630.74,139.15 631.08,139.15 C631.42,139.15 631.75,139.15 632.09,139.14 C632.43,139.14 632.77,139.14 633.11,139.13 C633.45,139.13 633.79,139.12 634.13,139.11 C634.47,139.11 634.81,139.10 635.15,139.09 C635.48,139.09 635.82,139.08 636.16,139.07 C636.50,139.06 636.84,139.05 637.18,139.03 C637.52,139.02 637.86,139.01 638.20,139.00 C638.54,138.98 638.88,138.97 639.21,138.95 C639.55,138.94 639.89,138.92 640.23,138.91 C640.57,138.89 640.91,138.87 641.25,138.85 C641.59,138.83 641.93,138.81 642.27,138.79 C642.60,138.77 642.94,138.75 643.28,138.73 C643.62,138.70 644.13,138.67 644.30,138.66" fill="none" stroke="#3a88d8" stroke-width="1.35" stroke-linejoin="round" stroke-linecap="round"/>
<path d="M543.90,121.56 C544.02,121.31 544.38,120.59 544.63,120.05 C544.87,119.51 545.11,118.92 545.35,118.29 C545.60,117.67 545.84,117.00 546.08,116.30 C546.32,115.60 546.57,114.86 546.81,114.09 C547.05,113.31 547.29,112.50 547.54,111.66 C547.78,110.82 548.02,109.94 548.26,109.04 C548.51,108.13 548.75,107.19 548.99,106.23 C549.23,105.27 549.48,104.27 549.72,103.25 C549.96,102.23 550.20,101.18 550.45,100.11 C550.69,99.04 550.93,97.94 551.17,96.82 C551.42,95.71 551.66,94.56 551.90,93.40 C552.14,92.24 552.39,91.06 552.63,89.86 C552.87,88.66 553.11,87.44 553.36,86.21 C553.60,84.98 553.84,83.73 554.08,82.46 C554.33,81.20 554.57,79.92 554.81,78.63 C555.05,77.35 555.29,76.04 555.54,74.73 C555.78,73.42 556.02,72.10 556.26,70.78 C556.51,69.46 556.75,68.13 556.99,66.81 C557.23,65.49 557.48,64.17 557.72,62.87 C557.96,61.56 558.20,60.27 558.45,58.99 C558.69,57.72 558.93,56.46 559.17,55.23 C559.42,54.00 559.66,52.79 559.90,51.62 C560.14,50.44 560.39,49.30 560.63,48.19 C560.87,47.09 561.11,46.02 561.36,45.00 C561.60,43.98 561.84,43.00 562.08,42.06 C562.33,41.13 562.57,40.23 562.81,39.39 C563.05,38.55 563.30,37.75 563.54,37.01 C563.78,36.26 564.02,35.56 564.27,34.92 C564.51,34.28 564.75,33.69 564.99,33.15 C565.24,32.61 565.48,32.13 565.72,31.71 C565.96,31.29 566.21,30.92 566.45,30.61 C566.69,30.31 566.93,30.06 567.17,29.87 C567.42,29.69 567.66,29.57 567.90,29.51 C568.14,29.45 568.39,29.46 568.63,29.53 C568.87,29.60 569.11,29.73 569.36,29.92 C569.60,30.11 569.84,30.36 570.08,30.65 C570.33,30.95 570.57,31.30 570.81,31.69 C571.05,32.09 571.30,32.53 571.54,33.01 C571.78,33.50 572.02,34.02 572.27,34.58 C572.51,35.14 572.75,35.74 572.99,36.37 C573.24,37.00 573.48,37.66 573.72,38.35 C573.96,39.03 574.21,39.75 574.45,40.48 C574.69,41.21 574.93,41.97 575.18,42.74 C575.42,43.51 575.66,44.30 575.90,45.10 C576.15,45.90 576.39,46.71 576.63,47.54 C576.87,48.36 577.12,49.20 577.36,50.05 C577.60,50.89 577.84,51.75 578.08,52.61 C578.33,53.48 578.57,54.35 578.81,55.23 C579.05,56.11 579.30,56.99 579.54,57.88 C579.78,58.77 580.02,59.67 580.27,60.56 C580.51,61.46 580.75,62.36 580.99,63.26 C581.24,64.16 581.48,65.06 581.72,65.96 C581.96,66.86 582.21,67.76 582.45,68.66 C582.69,69.56 582.93,70.46 583.18,71.35 C583.42,72.24 583.66,73.13 583.90,74.01 C584.15,74.89 584.39,75.76 584.63,76.63 C584.87,77.50 585.12,78.36 585.36,79.21 C585.60,80.06 585.84,80.90 586.09,81.73 C586.33,82.56 586.57,83.38 586.81,84.18 C587.06,84.99 587.30,85.78 587.54,86.56 C587.78,87.33 588.03,88.10 588.27,88.84 C588.51,89.59 588.75,90.32 588.99,91.03 C589.24,91.74 589.48,92.44 589.72,93.11 C589.96,93.78 590.21,94.44 590.45,95.07 C590.69,95.71 590.93,96.32 591.18,96.92 C591.42,97.52 591.66,98.11 591.90,98.67 C592.15,99.24 592.39,99.78 592.63,100.32 C592.87,100.85 593.12,101.37 593.36,101.87 C593.60,102.38 593.84,102.87 594.09,103.34 C594.33,103.82 594.57,104.28 594.81,104.73 C595.06,105.18 595.30,105.61 595.54,106.04 C595.78,106.47 596.03,106.88 596.27,107.28 C596.51,107.69 596.75,108.08 597.00,108.46 C597.24,108.85 597.48,109.22 597.72,109.59 C597.97,109.95 598.21,110.31 598.45,110.66 C598.69,111.01 598.94,111.35 599.18,111.69 C599.42,112.02 599.66,112.35 599.91,112.67 C600.15,113.00 600.39,113.32 600.63,113.63 C600.87,113.95 601.12,114.25 601.36,114.56 C601.60,114.87 601.84,115.17 602.09,115.47 C602.33,115.76 602.57,116.06 602.81,116.35 C603.06,116.64 603.30,116.93 603.54,117.21 C603.78,117.49 604.03,117.77 604.27,118.05 C604.51,118.32 604.75,118.59 605.00,118.86 C605.24,119.13 605.48,119.39 605.72,119.65 C605.97,119.91 606.21,120.17 606.45,120.42 C606.69,120.68 606.94,120.93 607.18,121.17 C607.42,121.42 607.66,121.66 607.91,121.90 C608.15,122.14 608.39,122.38 608.63,122.61 C608.88,122.84 609.12,123.07 609.36,123.30 C609.60,123.52 609.85,123.74 610.09,123.96 C610.33,124.18 610.57,124.40 610.82,124.61 C611.06,124.82 611.30,125.03 611.54,125.24 C611.78,125.44 612.03,125.64 612.27,125.84 C612.51,126.04 612.75,126.24 613.00,126.43 C613.24,126.62 613.48,126.81 613.72,127.00 C613.97,127.19 614.21,127.37 614.45,127.55 C614.69,127.73 614.94,127.91 615.18,128.08 C615.42,128.26 615.66,128.43 615.91,128.60 C616.15,128.76 616.39,128.93 616.63,129.09 C616.88,129.25 617.12,129.41 617.36,129.57 C617.60,129.73 617.85,129.88 618.09,130.03 C618.33,130.18 618.57,130.33 618.82,130.48 C619.06,130.62 619.30,130.76 619.54,130.90 C619.79,131.04 620.03,131.18 620.27,131.31 C620.51,131.45 620.76,131.58 621.00,131.71 C621.24,131.84 621.48,131.97 621.73,132.09 C621.97,132.21 622.21,132.33 622.45,132.45 C622.69,132.57 622.94,132.69 623.18,132.80 C623.42,132.91 623.66,133.03 623.91,133.13 C624.15,133.24 624.39,133.35 624.63,133.45 C624.88,133.56 625.12,133.66 625.36,133.76 C625.60,133.86 625.85,133.95 626.09,134.05 C626.33,134.14 626.57,134.23 626.82,134.32 C627.06,134.41 627.30,134.50 627.54,134.59 C627.79,134.67 628.03,134.75 628.27,134.83 C628.51,134.92 628.76,134.99 629.00,135.07 C629.24,135.15 629.48,135.22 629.73,135.29 C629.97,135.37 630.21,135.44 630.45,135.50 C630.70,135.57 630.94,135.64 631.18,135.70 C631.42,135.77 631.67,135.83 631.91,135.89 C632.15,135.95 632.39,136.01 632.64,136.07 C632.88,136.12 633.12,136.18 633.36,136.23 C633.61,136.28 633.85,136.33 634.09,136.38 C634.33,136.43 634.57,136.48 634.82,136.52 C635.06,136.57 635.30,136.61 635.54,136.66 C635.79,136.70 636.03,136.74 636.27,136.78 C636.51,136.82 636.76,136.85 637.00,136.89 C637.24,136.92 637.48,136.96 637.73,136.99 C637.97,137.02 638.21,137.05 638.45,137.08 C638.70,137.11 638.94,137.14 639.18,137.17 C639.42,137.19 639.67,137.22 639.91,137.24 C640.15,137.26 640.39,137.29 640.64,137.31 C640.88,137.33 641.12,137.35 641.36,137.36 C641.61,137.38 641.85,137.40 642.09,137.41 C642.33,137.43 642.58,137.44 642.82,137.46 C643.06,137.47 643.30,137.48 643.55,137.49 C643.79,137.50 644.03,137.51 644.27,137.52 C644.52,137.53 644.88,137.54 645.00,137.54" fill="none" stroke="#f81a58" stroke-width="1.5" stroke-linejoin="round" stroke-linecap="round"/>
<line x1="614.80" y1="92.40" x2="614.80" y2="120.10" stroke="#000" stroke-width="1.8"/>
<path d="M614.80,84.50 L619.35,92.90 L610.25,92.90 Z" fill="#000"/>
<text x="620.70" y="108.60" font-size="12" text-anchor="start" font-weight="normal" fill="#111" stroke="#111" stroke-width="0.25" textLength="23.3" lengthAdjust="spacingAndGlyphs" >× 24</text>
<line x1="49.40" y1="189.50" x2="49.40" y2="315.70" stroke="#151515" stroke-width="1.5"/>
<line x1="48.70" y1="315.00" x2="156.20" y2="315.00" stroke="#151515" stroke-width="1.5"/>
<line x1="46.00" y1="315.00" x2="49.40" y2="315.00" stroke="#151515" stroke-width="1.3"/>
<text x="45.20" y="316.50" font-size="11.5" text-anchor="end" font-weight="normal" fill="#111" stroke="#111" stroke-width="0.25" textLength="5.28" lengthAdjust="spacingAndGlyphs" >0</text>
<line x1="46.00" y1="283.80" x2="49.40" y2="283.80" stroke="#151515" stroke-width="1.3"/>
<text x="45.20" y="285.30" font-size="11.5" text-anchor="end" font-weight="normal" fill="#111" stroke="#111" stroke-width="0.25" textLength="10.56" lengthAdjust="spacingAndGlyphs" >50</text>
<line x1="46.00" y1="252.60" x2="49.40" y2="252.60" stroke="#151515" stroke-width="1.3"/>
<text x="45.20" y="254.10" font-size="11.5" text-anchor="end" font-weight="normal" fill="#111" stroke="#111" stroke-width="0.25" textLength="15.85" lengthAdjust="spacingAndGlyphs" >100</text>
<line x1="46.00" y1="221.40" x2="49.40" y2="221.40" stroke="#151515" stroke-width="1.3"/>
<text x="45.20" y="222.90" font-size="11.5" text-anchor="end" font-weight="normal" fill="#111" stroke="#111" stroke-width="0.25" textLength="15.85" lengthAdjust="spacingAndGlyphs" >150</text>
<line x1="46.00" y1="190.20" x2="49.40" y2="190.20" stroke="#151515" stroke-width="1.3"/>
<text x="45.20" y="191.70" font-size="11.5" text-anchor="end" font-weight="normal" fill="#111" stroke="#111" stroke-width="0.25" textLength="15.85" lengthAdjust="spacingAndGlyphs" >200</text>
<line x1="64.56" y1="315.00" x2="64.56" y2="318.30" stroke="#151515" stroke-width="1.3"/>
<text x="64.56" y="328.60" font-size="11.5" text-anchor="middle" font-weight="normal" fill="#111" stroke="#111" stroke-width="0.25" textLength="15.85" lengthAdjust="spacingAndGlyphs" >480</text>
<line x1="94.87" y1="315.00" x2="94.87" y2="318.30" stroke="#151515" stroke-width="1.3"/>
<text x="94.87" y="328.60" font-size="11.5" text-anchor="middle" font-weight="normal" fill="#111" stroke="#111" stroke-width="0.25" textLength="15.85" lengthAdjust="spacingAndGlyphs" >520</text>
<line x1="125.19" y1="315.00" x2="125.19" y2="318.30" stroke="#151515" stroke-width="1.3"/>
<text x="125.19" y="328.60" font-size="11.5" text-anchor="middle" font-weight="normal" fill="#111" stroke="#111" stroke-width="0.25" textLength="15.85" lengthAdjust="spacingAndGlyphs" >560</text>
<line x1="155.50" y1="315.00" x2="155.50" y2="318.30" stroke="#151515" stroke-width="1.3"/>
<text x="155.50" y="328.60" font-size="11.5" text-anchor="middle" font-weight="normal" fill="#111" stroke="#111" stroke-width="0.25" textLength="15.85" lengthAdjust="spacingAndGlyphs" >600</text>
<text x="103.70" y="340.20" font-size="10" text-anchor="middle" font-weight="bold" fill="#111" stroke="#111" stroke-width="0.25" textLength="80" lengthAdjust="spacingAndGlyphs" >Wavelength (nm)</text>
<text transform="translate(25.00,248.50) rotate(-90)" font-size="10" text-anchor="middle" font-weight="bold" fill="#111" stroke="#111" stroke-width="0.25" textLength="132.9" lengthAdjust="spacingAndGlyphs">Fluorescence Intensity (a.u.)</text>
<text x="53.30" y="201.10" font-size="16.5" text-anchor="start" font-weight="normal" fill="#111" stroke="#111" stroke-width="0.25" textLength="8.8" lengthAdjust="spacingAndGlyphs" >e</text>
<line x1="85.00" y1="190.30" x2="102.40" y2="190.30" stroke="#3a88d8" stroke-width="1.1"/>
<text x="104.50" y="194.30" font-size="10" text-anchor="start" font-weight="normal" fill="#3a88d8" stroke="#3a88d8" stroke-width="0.25" textLength="55" lengthAdjust="spacingAndGlyphs" >DMAC-CMK</text>
<line x1="85.00" y1="205.30" x2="102.40" y2="205.30" stroke="#f81a58" stroke-width="1.2"/>
<text x="104.50" y="209.40" font-size="10" text-anchor="start" font-weight="normal" fill="#f81a58" stroke="#f81a58" stroke-width="0.25" textLength="55" lengthAdjust="spacingAndGlyphs" >DMAC-CMK</text>
<text x="104.50" y="221.20" font-size="10" text-anchor="start" font-weight="normal" fill="#f81a58" stroke="#f81a58" stroke-width="0.25" >+ PYP</text>
<path d="M49.40,314.94 C49.58,314.90 50.11,314.76 50.47,314.68 C50.82,314.59 51.18,314.51 51.53,314.43 C51.89,314.35 52.24,314.27 52.60,314.19 C52.96,314.11 53.31,314.04 53.67,313.96 C54.02,313.89 54.38,313.82 54.73,313.75 C55.09,313.68 55.44,313.61 55.80,313.54 C56.16,313.48 56.51,313.41 56.87,313.35 C57.22,313.29 57.58,313.23 57.93,313.17 C58.29,313.11 58.64,313.06 59.00,313.00 C59.36,312.95 59.71,312.89 60.07,312.84 C60.42,312.79 60.78,312.74 61.13,312.69 C61.49,312.64 61.84,312.59 62.20,312.55 C62.56,312.50 62.91,312.46 63.27,312.42 C63.62,312.38 63.98,312.34 64.33,312.30 C64.69,312.26 65.04,312.22 65.40,312.19 C65.76,312.15 66.11,312.12 66.47,312.09 C66.82,312.05 67.18,312.02 67.53,311.99 C67.89,311.96 68.24,311.94 68.60,311.91 C68.96,311.88 69.31,311.86 69.67,311.83 C70.02,311.81 70.38,311.79 70.73,311.77 C71.09,311.74 71.44,311.72 71.80,311.71 C72.16,311.69 72.51,311.67 72.87,311.65 C73.22,311.64 73.58,311.62 73.93,311.61 C74.29,311.60 74.64,311.59 75.00,311.58 C75.36,311.56 75.71,311.55 76.07,311.55 C76.42,311.54 76.78,311.53 77.13,311.52 C77.49,311.52 77.84,311.51 78.20,311.51 C78.56,311.51 78.91,311.50 79.27,311.50 C79.62,311.50 79.98,311.50 80.33,311.50 C80.69,311.50 81.04,311.50 81.40,311.50 C81.76,311.51 82.11,311.51 82.47,311.51 C82.82,311.52 83.18,311.52 83.53,311.53 C83.89,311.54 84.24,311.54 84.60,311.55 C84.96,311.56 85.31,311.57 85.67,311.58 C86.02,311.59 86.38,311.60 86.73,311.61 C87.09,311.62 87.44,311.64 87.80,311.65 C88.16,311.66 88.51,311.68 88.87,311.69 C89.22,311.71 89.58,311.72 89.93,311.74 C90.29,311.76 90.64,311.77 91.00,311.79 C91.36,311.81 91.71,311.83 92.07,311.85 C92.42,311.86 92.78,311.88 93.13,311.90 C93.49,311.92 93.84,311.95 94.20,311.97 C94.56,311.99 94.91,312.01 95.27,312.03 C95.62,312.06 95.98,312.08 96.33,312.10 C96.69,312.13 97.04,312.15 97.40,312.18 C97.76,312.20 98.11,312.23 98.47,312.25 C98.82,312.28 99.18,312.30 99.53,312.33 C99.89,312.36 100.24,312.38 100.60,312.41 C100.96,312.44 101.31,312.47 101.67,312.49 C102.02,312.52 102.38,312.55 102.73,312.58 C103.09,312.61 103.44,312.64 103.80,312.66 C104.16,312.69 104.51,312.72 104.87,312.75 C105.22,312.78 105.58,312.81 105.93,312.84 C106.29,312.87 106.64,312.90 107.00,312.93 C107.36,312.96 107.71,312.99 108.07,313.03 C108.42,313.06 108.78,313.09 109.13,313.12 C109.49,313.15 109.84,313.18 110.20,313.21 C110.56,313.24 110.91,313.27 111.27,313.30 C111.62,313.34 111.98,313.37 112.33,313.40 C112.69,313.43 113.04,313.46 113.40,313.49 C113.76,313.52 114.11,313.55 114.47,313.59 C114.82,313.62 115.18,313.65 115.53,313.68 C115.89,313.71 116.24,313.74 116.60,313.77 C116.96,313.80 117.31,313.83 117.67,313.86 C118.02,313.89 118.38,313.92 118.73,313.95 C119.09,313.98 119.44,314.01 119.80,314.04 C120.16,314.07 120.51,314.10 120.87,314.13 C121.22,314.16 121.58,314.18 121.93,314.21 C122.29,314.24 122.64,314.27 123.00,314.30 C123.36,314.32 123.71,314.35 124.07,314.38 C124.42,314.40 124.78,314.43 125.13,314.45 C125.49,314.48 125.84,314.51 126.20,314.53 C126.56,314.56 126.91,314.58 127.27,314.60 C127.62,314.63 127.98,314.65 128.33,314.67 C128.69,314.70 129.04,314.72 129.40,314.74 C129.76,314.76 130.11,314.78 130.47,314.80 C130.82,314.83 131.18,314.85 131.53,314.86 C131.89,314.88 132.24,314.90 132.60,314.92 C132.96,314.94 133.31,314.96 133.67,314.97 C134.02,314.99 134.38,315.00 134.73,315.02 C135.09,315.03 135.44,315.05 135.80,315.06 C136.16,315.08 136.51,315.09 136.87,315.10 C137.22,315.11 137.58,315.12 137.93,315.13 C138.29,315.14 138.64,315.15 139.00,315.16 C139.36,315.17 139.71,315.18 140.07,315.19 C140.42,315.19 140.78,315.20 141.13,315.20 C141.49,315.21 141.84,315.21 142.20,315.21 C142.56,315.22 142.91,315.22 143.27,315.22 C143.62,315.22 143.98,315.22 144.33,315.22 C144.69,315.22 145.04,315.22 145.40,315.21 C145.76,315.21 146.11,315.20 146.47,315.20 C146.82,315.19 147.18,315.19 147.53,315.18 C147.89,315.17 148.24,315.16 148.60,315.15 C148.96,315.14 149.31,315.13 149.67,315.11 C150.02,315.10 150.38,315.09 150.73,315.07 C151.09,315.06 151.44,315.04 151.80,315.02 C152.16,315.00 152.51,314.99 152.87,314.96 C153.22,314.94 153.58,314.92 153.93,314.90 C154.29,314.88 154.82,314.84 155.00,314.82" fill="none" stroke="#3a88d8" stroke-width="1.35" stroke-linejoin="round" stroke-linecap="round"/>
<path d="M49.40,296.81 C49.53,296.55 49.91,295.85 50.16,295.26 C50.42,294.68 50.67,294.01 50.92,293.28 C51.18,292.56 51.43,291.76 51.69,290.91 C51.94,290.05 52.19,289.13 52.45,288.16 C52.70,287.19 52.96,286.16 53.21,285.08 C53.46,284.00 53.72,282.87 53.97,281.70 C54.23,280.53 54.48,279.31 54.73,278.05 C54.99,276.80 55.24,275.50 55.49,274.17 C55.75,272.84 56.00,271.47 56.26,270.08 C56.51,268.69 56.76,267.27 57.02,265.83 C57.27,264.39 57.53,262.92 57.78,261.43 C58.03,259.95 58.29,258.45 58.54,256.94 C58.80,255.43 59.05,253.90 59.30,252.38 C59.56,250.85 59.81,249.31 60.07,247.79 C60.32,246.28 60.57,244.76 60.83,243.30 C61.08,241.84 61.34,240.39 61.59,239.01 C61.84,237.63 62.10,236.29 62.35,235.04 C62.61,233.78 62.86,232.62 63.11,231.48 C63.37,230.35 63.62,229.32 63.88,228.25 C64.13,227.18 64.38,226.17 64.64,225.06 C64.89,223.95 65.15,222.85 65.40,221.62 C65.65,220.38 65.91,219.08 66.16,217.64 C66.42,216.19 66.67,214.53 66.92,212.95 C67.18,211.37 67.43,209.64 67.68,208.18 C67.94,206.72 68.19,205.37 68.45,204.18 C68.70,203.00 68.95,201.99 69.21,201.08 C69.46,200.16 69.72,199.40 69.97,198.69 C70.22,197.99 70.48,197.40 70.73,196.85 C70.99,196.29 71.24,195.82 71.49,195.37 C71.75,194.92 72.00,194.51 72.26,194.15 C72.51,193.79 72.76,193.47 73.02,193.20 C73.27,192.94 73.53,192.72 73.78,192.56 C74.03,192.40 74.29,192.29 74.54,192.24 C74.80,192.20 75.05,192.21 75.30,192.28 C75.56,192.36 75.81,192.49 76.07,192.68 C76.32,192.88 76.57,193.13 76.83,193.44 C77.08,193.75 77.34,194.12 77.59,194.54 C77.84,194.96 78.10,195.44 78.35,195.97 C78.61,196.50 78.86,197.09 79.11,197.72 C79.37,198.35 79.62,199.03 79.87,199.75 C80.13,200.47 80.38,201.24 80.64,202.04 C80.89,202.83 81.14,203.67 81.40,204.53 C81.65,205.39 81.91,206.29 82.16,207.20 C82.41,208.12 82.67,209.06 82.92,210.01 C83.18,210.96 83.43,211.94 83.68,212.92 C83.94,213.90 84.19,214.89 84.45,215.89 C84.70,216.88 84.95,217.89 85.21,218.89 C85.46,219.88 85.72,220.89 85.97,221.89 C86.22,222.88 86.48,223.88 86.73,224.88 C86.99,225.88 87.24,226.87 87.49,227.86 C87.75,228.85 88.00,229.84 88.26,230.83 C88.51,231.81 88.76,232.79 89.02,233.76 C89.27,234.73 89.53,235.70 89.78,236.66 C90.03,237.61 90.29,238.57 90.54,239.51 C90.79,240.45 91.05,241.39 91.30,242.31 C91.56,243.23 91.81,244.15 92.06,245.05 C92.32,245.95 92.57,246.84 92.83,247.72 C93.08,248.60 93.33,249.46 93.59,250.31 C93.84,251.17 94.10,252.00 94.35,252.83 C94.60,253.65 94.86,254.45 95.11,255.24 C95.37,256.03 95.62,256.81 95.87,257.56 C96.13,258.31 96.38,259.05 96.64,259.77 C96.89,260.49 97.14,261.18 97.40,261.86 C97.65,262.54 97.91,263.20 98.16,263.84 C98.41,264.49 98.67,265.11 98.92,265.72 C99.18,266.33 99.43,266.92 99.68,267.50 C99.94,268.08 100.19,268.64 100.45,269.19 C100.70,269.74 100.95,270.28 101.21,270.80 C101.46,271.33 101.72,271.84 101.97,272.34 C102.22,272.84 102.48,273.33 102.73,273.82 C102.98,274.30 103.24,274.77 103.49,275.23 C103.75,275.70 104.00,276.15 104.25,276.60 C104.51,277.05 104.76,277.49 105.02,277.93 C105.27,278.37 105.52,278.80 105.78,279.22 C106.03,279.65 106.29,280.07 106.54,280.48 C106.79,280.89 107.05,281.30 107.30,281.71 C107.56,282.11 107.81,282.51 108.06,282.90 C108.32,283.29 108.57,283.68 108.83,284.06 C109.08,284.45 109.33,284.82 109.59,285.19 C109.84,285.57 110.10,285.93 110.35,286.30 C110.60,286.66 110.86,287.01 111.11,287.37 C111.37,287.72 111.62,288.06 111.87,288.41 C112.13,288.75 112.38,289.08 112.64,289.42 C112.89,289.75 113.14,290.08 113.40,290.40 C113.65,290.72 113.91,291.04 114.16,291.35 C114.41,291.66 114.67,291.97 114.92,292.28 C115.17,292.58 115.43,292.88 115.68,293.17 C115.94,293.47 116.19,293.76 116.44,294.04 C116.70,294.33 116.95,294.61 117.21,294.89 C117.46,295.16 117.71,295.44 117.97,295.71 C118.22,295.97 118.48,296.24 118.73,296.50 C118.98,296.76 119.24,297.01 119.49,297.26 C119.75,297.51 120.00,297.76 120.25,298.00 C120.51,298.25 120.76,298.48 121.02,298.72 C121.27,298.95 121.52,299.19 121.78,299.41 C122.03,299.64 122.29,299.86 122.54,300.08 C122.79,300.30 123.05,300.51 123.30,300.73 C123.56,300.94 123.81,301.14 124.06,301.35 C124.32,301.55 124.57,301.75 124.83,301.95 C125.08,302.15 125.33,302.34 125.59,302.53 C125.84,302.72 126.09,302.90 126.35,303.08 C126.60,303.27 126.86,303.45 127.11,303.62 C127.36,303.80 127.62,303.97 127.87,304.14 C128.13,304.31 128.38,304.47 128.63,304.63 C128.89,304.79 129.14,304.95 129.40,305.11 C129.65,305.26 129.90,305.42 130.16,305.57 C130.41,305.71 130.67,305.86 130.92,306.00 C131.17,306.15 131.43,306.29 131.68,306.42 C131.94,306.56 132.19,306.69 132.44,306.83 C132.70,306.96 132.95,307.09 133.21,307.21 C133.46,307.34 133.71,307.46 133.97,307.58 C134.22,307.70 134.48,307.82 134.73,307.93 C134.98,308.04 135.24,308.16 135.49,308.27 C135.75,308.38 136.00,308.48 136.25,308.59 C136.51,308.69 136.76,308.79 137.02,308.89 C137.27,308.99 137.52,309.09 137.78,309.18 C138.03,309.28 138.28,309.37 138.54,309.46 C138.79,309.55 139.05,309.63 139.30,309.72 C139.55,309.80 139.81,309.89 140.06,309.97 C140.32,310.05 140.57,310.13 140.82,310.20 C141.08,310.28 141.33,310.35 141.59,310.43 C141.84,310.50 142.09,310.57 142.35,310.64 C142.60,310.71 142.86,310.77 143.11,310.84 C143.36,310.90 143.62,310.97 143.87,311.03 C144.13,311.09 144.38,311.15 144.63,311.21 C144.89,311.26 145.14,311.32 145.40,311.37 C145.65,311.43 145.90,311.48 146.16,311.53 C146.41,311.58 146.67,311.63 146.92,311.68 C147.17,311.73 147.43,311.78 147.68,311.82 C147.94,311.87 148.19,311.91 148.44,311.95 C148.70,312.00 148.95,312.04 149.21,312.08 C149.46,312.12 149.71,312.16 149.97,312.19 C150.22,312.23 150.47,312.27 150.73,312.30 C150.98,312.34 151.24,312.37 151.49,312.41 C151.74,312.44 152.00,312.47 152.25,312.50 C152.51,312.53 152.76,312.56 153.01,312.59 C153.27,312.62 153.52,312.65 153.78,312.68 C154.03,312.71 154.28,312.73 154.54,312.76 C154.79,312.79 155.17,312.82 155.30,312.84" fill="none" stroke="#f81a58" stroke-width="1.5" stroke-linejoin="round" stroke-linecap="round"/>
<line x1="118.10" y1="260.90" x2="118.10" y2="288.60" stroke="#000" stroke-width="1.8"/>
<path d="M118.10,253.00 L122.65,261.40 L113.55,261.40 Z" fill="#000"/>
<text x="124.30" y="276.30" font-size="12" text-anchor="start" font-weight="normal" fill="#111" stroke="#111" stroke-width="0.25" textLength="23.2" lengthAdjust="spacingAndGlyphs" >× 33</text>
<line x1="247.10" y1="203.80" x2="247.10" y2="312.90" stroke="#151515" stroke-width="1.35"/>
<line x1="246.50" y1="312.30" x2="397.80" y2="312.30" stroke="#151515" stroke-width="1.35"/>
<line x1="243.80" y1="312.30" x2="247.10" y2="312.30" stroke="#151515" stroke-width="1.2"/>
<text x="242.90" y="313.70" font-size="11" text-anchor="end" font-weight="normal" fill="#111" stroke="#111" stroke-width="0.25" >0</text>
<line x1="243.80" y1="290.72" x2="247.10" y2="290.72" stroke="#151515" stroke-width="1.2"/>
<text x="242.90" y="292.12" font-size="11" text-anchor="end" font-weight="normal" fill="#111" stroke="#111" stroke-width="0.25" textLength="15.0" lengthAdjust="spacingAndGlyphs" >0.2</text>
<line x1="243.80" y1="269.14" x2="247.10" y2="269.14" stroke="#151515" stroke-width="1.2"/>
<text x="242.90" y="270.54" font-size="11" text-anchor="end" font-weight="normal" fill="#111" stroke="#111" stroke-width="0.25" textLength="15.0" lengthAdjust="spacingAndGlyphs" >0.4</text>
<line x1="243.80" y1="247.56" x2="247.10" y2="247.56" stroke="#151515" stroke-width="1.2"/>
<text x="242.90" y="248.96" font-size="11" text-anchor="end" font-weight="normal" fill="#111" stroke="#111" stroke-width="0.25" textLength="15.0" lengthAdjust="spacingAndGlyphs" >0.6</text>
<line x1="243.80" y1="225.98" x2="247.10" y2="225.98" stroke="#151515" stroke-width="1.2"/>
<text x="242.90" y="227.38" font-size="11" text-anchor="end" font-weight="normal" fill="#111" stroke="#111" stroke-width="0.25" textLength="15.0" lengthAdjust="spacingAndGlyphs" >0.8</text>
<line x1="243.80" y1="204.40" x2="247.10" y2="204.40" stroke="#151515" stroke-width="1.2"/>
<text x="242.90" y="205.80" font-size="11" text-anchor="end" font-weight="normal" fill="#111" stroke="#111" stroke-width="0.25" >1</text>
<line x1="247.10" y1="312.30" x2="247.10" y2="315.50" stroke="#151515" stroke-width="1.2"/>
<text x="247.10" y="326.40" font-size="11.5" text-anchor="middle" font-weight="normal" fill="#111" stroke="#111" stroke-width="0.25" >0</text>
<line x1="277.12" y1="312.30" x2="277.12" y2="315.50" stroke="#151515" stroke-width="1.2"/>
<text x="277.12" y="326.40" font-size="11.5" text-anchor="middle" font-weight="normal" fill="#111" stroke="#111" stroke-width="0.25" >4</text>
<line x1="307.14" y1="312.30" x2="307.14" y2="315.50" stroke="#151515" stroke-width="1.2"/>
<text x="307.14" y="326.40" font-size="11.5" text-anchor="middle" font-weight="normal" fill="#111" stroke="#111" stroke-width="0.25" >8</text>
<line x1="337.16" y1="312.30" x2="337.16" y2="315.50" stroke="#151515" stroke-width="1.2"/>
<text x="337.16" y="326.40" font-size="11.5" text-anchor="middle" font-weight="normal" fill="#111" stroke="#111" stroke-width="0.25" textLength="11.7" lengthAdjust="spacingAndGlyphs" >12</text>
<line x1="367.18" y1="312.30" x2="367.18" y2="315.50" stroke="#151515" stroke-width="1.2"/>
<text x="367.18" y="326.40" font-size="11.5" text-anchor="middle" font-weight="normal" fill="#111" stroke="#111" stroke-width="0.25" textLength="11.7" lengthAdjust="spacingAndGlyphs" >16</text>
<line x1="397.20" y1="312.30" x2="397.20" y2="315.50" stroke="#151515" stroke-width="1.2"/>
<text x="397.20" y="326.40" font-size="11.5" text-anchor="middle" font-weight="normal" fill="#111" stroke="#111" stroke-width="0.25" textLength="11.7" lengthAdjust="spacingAndGlyphs" >20</text>
<text x="322.00" y="336.60" font-size="11.5" text-anchor="middle" font-weight="bold" fill="#111" stroke="#111" stroke-width="0.25" textLength="58.7" lengthAdjust="spacingAndGlyphs" >Time (min)</text>
<text transform="translate(207.40,259.50) rotate(-90)" font-size="11" text-anchor="middle" font-weight="bold" fill="#111" stroke="#111" stroke-width="0.25" textLength="60" lengthAdjust="spacingAndGlyphs">Normalized</text>
<text transform="translate(221.60,259.60) rotate(-90)" font-size="11" text-anchor="middle" font-weight="bold" fill="#111" stroke="#111" stroke-width="0.25" textLength="118.2" lengthAdjust="spacingAndGlyphs">Fluorescence Intensity</text>
<text x="254.30" y="207.70" font-size="14.5" text-anchor="start" font-weight="normal" fill="#111" stroke="#111" stroke-width="0.25" >f</text>
<path d="M247.10,311.90 C247.20,311.11 247.52,308.68 247.72,307.14 C247.93,305.59 248.14,304.09 248.35,302.62 C248.56,301.15 248.77,299.73 248.97,298.34 C249.18,296.94 249.39,295.59 249.60,294.27 C249.81,292.95 250.02,291.67 250.22,290.42 C250.43,289.16 250.64,287.95 250.85,286.76 C251.06,285.57 251.27,284.41 251.47,283.28 C251.68,282.15 251.89,281.06 252.10,279.98 C252.31,278.91 252.52,277.87 252.72,276.85 C252.93,275.84 253.14,274.85 253.35,273.88 C253.56,272.91 253.77,271.97 253.97,271.06 C254.18,270.14 254.14,270.20 254.60,268.37 C255.06,266.54 256.04,262.62 256.76,260.08 C257.48,257.53 258.20,255.24 258.92,253.10 C259.64,250.96 260.36,249.03 261.08,247.22 C261.80,245.41 262.52,243.77 263.24,242.24 C263.96,240.70 264.68,239.32 265.41,238.01 C266.13,236.71 266.85,235.52 267.57,234.41 C268.29,233.29 269.01,232.28 269.73,231.32 C270.45,230.36 271.17,229.49 271.89,228.67 C272.61,227.84 273.33,227.09 274.05,226.37 C274.77,225.66 275.49,225.00 276.21,224.38 C276.93,223.76 277.65,223.18 278.37,222.64 C279.09,222.10 279.81,221.59 280.53,221.11 C281.25,220.64 281.97,220.19 282.69,219.77 C283.41,219.34 284.13,218.95 284.85,218.57 C285.57,218.20 286.29,217.85 287.02,217.51 C287.74,217.17 288.46,216.86 289.18,216.56 C289.90,216.26 290.62,215.97 291.34,215.70 C292.06,215.43 292.78,215.17 293.50,214.92 C294.22,214.68 294.94,214.44 295.66,214.22 C296.38,213.99 297.10,213.78 297.82,213.57 C298.54,213.37 299.26,213.17 299.98,212.98 C300.70,212.79 301.42,212.61 302.14,212.44 C302.86,212.27 303.58,212.10 304.30,211.94 C305.02,211.78 305.74,211.62 306.46,211.48 C307.18,211.33 307.91,211.18 308.63,211.04 C309.35,210.91 310.07,210.77 310.79,210.64 C311.51,210.51 312.23,210.39 312.95,210.27 C313.67,210.15 314.39,210.03 315.11,209.92 C315.83,209.81 316.55,209.70 317.27,209.59 C317.99,209.49 318.71,209.38 319.43,209.28 C320.15,209.18 320.87,209.09 321.59,209.00 C322.31,208.90 323.03,208.81 323.75,208.72 C324.47,208.64 325.19,208.55 325.91,208.47 C326.63,208.38 327.35,208.30 328.07,208.23 C328.79,208.15 329.52,208.07 330.24,208.00 C330.96,207.92 331.68,207.85 332.40,207.78 C333.12,207.71 333.84,207.65 334.56,207.58 C335.28,207.51 336.00,207.45 336.72,207.39 C337.44,207.33 338.16,207.26 338.88,207.21 C339.60,207.15 340.32,207.09 341.04,207.03 C341.76,206.98 342.48,206.92 343.20,206.87 C343.92,206.82 344.64,206.77 345.36,206.72 C346.08,206.67 346.80,206.62 347.52,206.57 C348.24,206.52 348.96,206.48 349.68,206.43 C350.41,206.39 351.13,206.34 351.85,206.30 C352.57,206.26 353.29,206.22 354.01,206.18 C354.73,206.14 355.45,206.10 356.17,206.06 C356.89,206.02 357.61,205.98 358.33,205.95 C359.05,205.91 359.77,205.87 360.49,205.84 C361.21,205.81 361.93,205.77 362.65,205.74 C363.37,205.71 364.09,205.68 364.81,205.64 C365.53,205.61 366.25,205.58 366.97,205.55 C367.69,205.52 368.41,205.50 369.13,205.47 C369.85,205.44 370.57,205.41 371.29,205.39 C372.02,205.36 372.74,205.33 373.46,205.31 C374.18,205.28 374.90,205.26 375.62,205.24 C376.34,205.21 377.06,205.19 377.78,205.17 C378.50,205.14 379.22,205.12 379.94,205.10 C380.66,205.08 381.74,205.05 382.10,205.04" fill="none" stroke="#444" stroke-width="1.0" stroke-linejoin="round" stroke-linecap="round"/>
<path d="M247.00,308.30 L250.00,313.60 L244.00,313.60 Z" fill="#000" stroke="#000" stroke-width="0.4" stroke-linejoin="round"/>
<path d="M255.00,265.05 L258.00,270.35 L252.00,270.35 Z" fill="#000" stroke="#000" stroke-width="0.4" stroke-linejoin="round"/>
<path d="M262.50,241.55 L265.50,246.85 L259.50,246.85 Z" fill="#000" stroke="#000" stroke-width="0.4" stroke-linejoin="round"/>
<path d="M269.50,227.25 L272.50,232.55 L266.50,232.55 Z" fill="#000" stroke="#000" stroke-width="0.4" stroke-linejoin="round"/>
<path d="M277.60,219.75 L280.60,225.05 L274.60,225.05 Z" fill="#000" stroke="#000" stroke-width="0.4" stroke-linejoin="round"/>
<path d="M285.10,215.45 L288.10,220.75 L282.10,220.75 Z" fill="#000" stroke="#000" stroke-width="0.4" stroke-linejoin="round"/>
<path d="M292.70,212.65 L295.70,217.95 L289.70,217.95 Z" fill="#000" stroke="#000" stroke-width="0.4" stroke-linejoin="round"/>
<path d="M299.80,209.85 L302.80,215.15 L296.80,215.15 Z" fill="#000" stroke="#000" stroke-width="0.4" stroke-linejoin="round"/>
<path d="M307.50,207.55 L310.50,212.85 L304.50,212.85 Z" fill="#000" stroke="#000" stroke-width="0.4" stroke-linejoin="round"/>
<path d="M315.00,206.65 L318.00,211.95 L312.00,211.95 Z" fill="#000" stroke="#000" stroke-width="0.4" stroke-linejoin="round"/>
<path d="M322.50,205.05 L325.50,210.35 L319.50,210.35 Z" fill="#000" stroke="#000" stroke-width="0.4" stroke-linejoin="round"/>
<path d="M330.00,204.05 L333.00,209.35 L327.00,209.35 Z" fill="#000" stroke="#000" stroke-width="0.4" stroke-linejoin="round"/>
<path d="M337.50,204.05 L340.50,209.35 L334.50,209.35 Z" fill="#000" stroke="#000" stroke-width="0.4" stroke-linejoin="round"/>
<path d="M345.00,203.05 L348.00,208.35 L342.00,208.35 Z" fill="#000" stroke="#000" stroke-width="0.4" stroke-linejoin="round"/>
<path d="M352.50,203.05 L355.50,208.35 L349.50,208.35 Z" fill="#000" stroke="#000" stroke-width="0.4" stroke-linejoin="round"/>
<path d="M360.00,202.05 L363.00,207.35 L357.00,207.35 Z" fill="#000" stroke="#000" stroke-width="0.4" stroke-linejoin="round"/>
<path d="M367.50,202.05 L370.50,207.35 L364.50,207.35 Z" fill="#000" stroke="#000" stroke-width="0.4" stroke-linejoin="round"/>
<path d="M375.00,202.05 L378.00,207.35 L372.00,207.35 Z" fill="#000" stroke="#000" stroke-width="0.4" stroke-linejoin="round"/>
<path d="M382.50,201.55 L385.50,206.85 L379.50,206.85 Z" fill="#000" stroke="#000" stroke-width="0.4" stroke-linejoin="round"/>
<text x="289.20" y="274.80" font-size="11" text-anchor="start" font-weight="bold" fill="#111" stroke="#111" stroke-width="0.25" font-style="italic">t</text>
<text x="293.70" y="281.60" font-size="8.5" text-anchor="start" font-weight="bold" fill="#111" stroke="#111" stroke-width="0.25" textLength="10.2" lengthAdjust="spacingAndGlyphs" >1/2</text>
<text x="307.80" y="274.90" font-size="10" text-anchor="start" font-weight="bold" fill="#111" stroke="#111" stroke-width="0.25" textLength="50" lengthAdjust="spacingAndGlyphs" >= 1.4 min</text>
<line x1="287.70" y1="296.30" x2="307.80" y2="296.30" stroke="#666" stroke-width="1.1"/>
<path d="M298.00,293.50 L300.80,298.50 L295.20,298.50 Z" fill="#000" stroke="#000" stroke-width="0.4" stroke-linejoin="round"/>
<text x="310.80" y="300.80" font-size="12" text-anchor="start" font-weight="normal" fill="#111" stroke="#111" stroke-width="0.25" textLength="66.5" lengthAdjust="spacingAndGlyphs" >Em: 494 nm</text>
<rect x="484.60" y="192.30" width="149.40" height="120.20" fill="none" stroke="#6e7a84" stroke-width="1.15"/>
<line x1="484.60" y1="191.80" x2="484.60" y2="312.50" stroke="#252a2e" stroke-width="1.35"/>
<line x1="484.60" y1="312.50" x2="634.00" y2="312.50" stroke="#252a2e" stroke-width="1.35"/>
<line x1="481.00" y1="312.50" x2="484.60" y2="312.50" stroke="#2a2f33" stroke-width="1.2"/>
<text x="478.00" y="315.90" font-size="11" text-anchor="end" font-weight="normal" fill="#111" stroke="#111" stroke-width="0.25" >0</text>
<line x1="481.00" y1="294.10" x2="484.60" y2="294.10" stroke="#2a2f33" stroke-width="1.2"/>
<text x="478.00" y="297.50" font-size="11" text-anchor="end" font-weight="normal" fill="#111" stroke="#111" stroke-width="0.25" textLength="15.0" lengthAdjust="spacingAndGlyphs" >0.2</text>
<line x1="481.00" y1="275.70" x2="484.60" y2="275.70" stroke="#2a2f33" stroke-width="1.2"/>
<text x="478.00" y="279.10" font-size="11" text-anchor="end" font-weight="normal" fill="#111" stroke="#111" stroke-width="0.25" textLength="15.0" lengthAdjust="spacingAndGlyphs" >0.4</text>
<line x1="481.00" y1="257.30" x2="484.60" y2="257.30" stroke="#2a2f33" stroke-width="1.2"/>
<text x="478.00" y="260.70" font-size="11" text-anchor="end" font-weight="normal" fill="#111" stroke="#111" stroke-width="0.25" textLength="15.0" lengthAdjust="spacingAndGlyphs" >0.6</text>
<line x1="481.00" y1="238.90" x2="484.60" y2="238.90" stroke="#2a2f33" stroke-width="1.2"/>
<text x="478.00" y="242.30" font-size="11" text-anchor="end" font-weight="normal" fill="#111" stroke="#111" stroke-width="0.25" textLength="15.0" lengthAdjust="spacingAndGlyphs" >0.8</text>
<line x1="481.00" y1="220.50" x2="484.60" y2="220.50" stroke="#2a2f33" stroke-width="1.2"/>
<text x="478.00" y="223.90" font-size="11" text-anchor="end" font-weight="normal" fill="#111" stroke="#111" stroke-width="0.25" >1</text>
<line x1="481.00" y1="202.10" x2="484.60" y2="202.10" stroke="#2a2f33" stroke-width="1.2"/>
<text x="478.00" y="205.50" font-size="11" text-anchor="end" font-weight="normal" fill="#111" stroke="#111" stroke-width="0.25" textLength="15.0" lengthAdjust="spacingAndGlyphs" >1.2</text>
<line x1="486.40" y1="312.50" x2="486.40" y2="316.30" stroke="#2a2f33" stroke-width="1.2"/>
<text x="486.40" y="325.80" font-size="11" text-anchor="middle" font-weight="normal" fill="#111" stroke="#111" stroke-width="0.25" >0</text>
<line x1="509.02" y1="312.50" x2="509.02" y2="316.30" stroke="#2a2f33" stroke-width="1.2"/>
<text x="509.02" y="325.80" font-size="11" text-anchor="middle" font-weight="normal" fill="#111" stroke="#111" stroke-width="0.25" >20</text>
<line x1="531.64" y1="312.50" x2="531.64" y2="316.30" stroke="#2a2f33" stroke-width="1.2"/>
<text x="531.64" y="325.80" font-size="11" text-anchor="middle" font-weight="normal" fill="#111" stroke="#111" stroke-width="0.25" >40</text>
<line x1="554.26" y1="312.50" x2="554.26" y2="316.30" stroke="#2a2f33" stroke-width="1.2"/>
<text x="554.26" y="325.80" font-size="11" text-anchor="middle" font-weight="normal" fill="#111" stroke="#111" stroke-width="0.25" >60</text>
<line x1="576.88" y1="312.50" x2="576.88" y2="316.30" stroke="#2a2f33" stroke-width="1.2"/>
<text x="576.88" y="325.80" font-size="11" text-anchor="middle" font-weight="normal" fill="#111" stroke="#111" stroke-width="0.25" >80</text>
<line x1="599.50" y1="312.50" x2="599.50" y2="316.30" stroke="#2a2f33" stroke-width="1.2"/>
<text x="599.50" y="325.80" font-size="11" text-anchor="middle" font-weight="normal" fill="#111" stroke="#111" stroke-width="0.25" >100</text>
<line x1="622.12" y1="312.50" x2="622.12" y2="316.30" stroke="#2a2f33" stroke-width="1.2"/>
<text x="622.12" y="325.80" font-size="11" text-anchor="middle" font-weight="normal" fill="#111" stroke="#111" stroke-width="0.25" >120</text>
<line x1="484.60" y1="312.50" x2="484.60" y2="316.30" stroke="#2a2f33" stroke-width="1.2"/>
<line x1="634.00" y1="312.50" x2="634.00" y2="316.30" stroke="#6f7e88" stroke-width="1.2"/>
<text x="563.50" y="340.60" font-size="10.5" text-anchor="middle" font-weight="bold" fill="#111" stroke="#111" stroke-width="0.25" textLength="53" lengthAdjust="spacingAndGlyphs" >Time (min)</text>
<text transform="translate(442.60,256.10) rotate(-90)" font-size="10.75" text-anchor="middle" font-weight="bold" fill="#111" stroke="#111" stroke-width="0.25" textLength="58" lengthAdjust="spacingAndGlyphs">Normalized</text>
<text transform="translate(457.00,254.30) rotate(-90)" font-size="10.75" text-anchor="middle" font-weight="bold" fill="#111" stroke="#111" stroke-width="0.25" textLength="116.5" lengthAdjust="spacingAndGlyphs">Fluorescence Intensity</text>
<text x="494.90" y="205.60" font-size="16.8" text-anchor="start" font-weight="normal" fill="#111" stroke="#111" stroke-width="0.25" textLength="8.6" lengthAdjust="spacingAndGlyphs" >g</text>
<polyline points="486.40,220.50 497.71,220.00 509.02,219.60 520.33,218.80 531.64,218.40 542.95,217.80 554.26,217.30 565.57,216.60 576.88,216.50 588.19,216.20 599.50,216.10 610.81,216.10 622.12,215.80" fill="none" stroke="#111" stroke-width="1.4"/>
<polyline points="486.40,220.30 497.71,227.20 509.02,228.90 520.33,231.50 531.64,233.00 542.95,236.20 554.26,238.00 565.57,238.60 576.88,242.00 588.19,243.50 599.50,245.20 610.81,246.50 622.12,249.90" fill="none" stroke="#111" stroke-width="1.4"/>
<rect x="483.90" y="217.80" width="5.0" height="5.0" rx="1" fill="#fff" stroke="#111" stroke-width="0.9"/>
<path d="M488.90,217.80 L488.90,222.80 L483.90,222.80 Z" fill="#111"/>
<rect x="495.21" y="224.70" width="5.0" height="5.0" rx="1" fill="#fff" stroke="#111" stroke-width="0.9"/>
<path d="M500.21,224.70 L500.21,229.70 L495.21,229.70 Z" fill="#111"/>
<rect x="506.52" y="226.40" width="5.0" height="5.0" rx="1" fill="#fff" stroke="#111" stroke-width="0.9"/>
<path d="M511.52,226.40 L511.52,231.40 L506.52,231.40 Z" fill="#111"/>
<rect x="517.83" y="229.00" width="5.0" height="5.0" rx="1" fill="#fff" stroke="#111" stroke-width="0.9"/>
<path d="M522.83,229.00 L522.83,234.00 L517.83,234.00 Z" fill="#111"/>
<rect x="529.14" y="230.50" width="5.0" height="5.0" rx="1" fill="#fff" stroke="#111" stroke-width="0.9"/>
<path d="M534.14,230.50 L534.14,235.50 L529.14,235.50 Z" fill="#111"/>
<rect x="540.45" y="233.70" width="5.0" height="5.0" rx="1" fill="#fff" stroke="#111" stroke-width="0.9"/>
<path d="M545.45,233.70 L545.45,238.70 L540.45,238.70 Z" fill="#111"/>
<rect x="551.76" y="235.50" width="5.0" height="5.0" rx="1" fill="#fff" stroke="#111" stroke-width="0.9"/>
<path d="M556.76,235.50 L556.76,240.50 L551.76,240.50 Z" fill="#111"/>
<rect x="563.07" y="236.10" width="5.0" height="5.0" rx="1" fill="#fff" stroke="#111" stroke-width="0.9"/>
<path d="M568.07,236.10 L568.07,241.10 L563.07,241.10 Z" fill="#111"/>
<rect x="574.38" y="239.50" width="5.0" height="5.0" rx="1" fill="#fff" stroke="#111" stroke-width="0.9"/>
<path d="M579.38,239.50 L579.38,244.50 L574.38,244.50 Z" fill="#111"/>
<rect x="585.69" y="241.00" width="5.0" height="5.0" rx="1" fill="#fff" stroke="#111" stroke-width="0.9"/>
<path d="M590.69,241.00 L590.69,246.00 L585.69,246.00 Z" fill="#111"/>
<rect x="597.00" y="242.70" width="5.0" height="5.0" rx="1" fill="#fff" stroke="#111" stroke-width="0.9"/>
<path d="M602.00,242.70 L602.00,247.70 L597.00,247.70 Z" fill="#111"/>
<rect x="608.31" y="244.00" width="5.0" height="5.0" rx="1" fill="#fff" stroke="#111" stroke-width="0.9"/>
<path d="M613.31,244.00 L613.31,249.00 L608.31,249.00 Z" fill="#111"/>
<rect x="619.62" y="247.40" width="5.0" height="5.0" rx="1" fill="#fff" stroke="#111" stroke-width="0.9"/>
<path d="M624.62,247.40 L624.62,252.40 L619.62,252.40 Z" fill="#111"/>
<path d="M486.40,218.00 L489.40,223.00 L483.40,223.00 Z" fill="#000" stroke="#000" stroke-width="0.4" stroke-linejoin="round"/>
<path d="M497.71,217.50 L500.71,222.50 L494.71,222.50 Z" fill="#000" stroke="#000" stroke-width="0.4" stroke-linejoin="round"/>
<path d="M509.02,217.10 L512.02,222.10 L506.02,222.10 Z" fill="#000" stroke="#000" stroke-width="0.4" stroke-linejoin="round"/>
<path d="M520.33,216.30 L523.33,221.30 L517.33,221.30 Z" fill="#000" stroke="#000" stroke-width="0.4" stroke-linejoin="round"/>
<path d="M531.64,215.90 L534.64,220.90 L528.64,220.90 Z" fill="#000" stroke="#000" stroke-width="0.4" stroke-linejoin="round"/>
<path d="M542.95,215.30 L545.95,220.30 L539.95,220.30 Z" fill="#000" stroke="#000" stroke-width="0.4" stroke-linejoin="round"/>
<path d="M554.26,214.80 L557.26,219.80 L551.26,219.80 Z" fill="#000" stroke="#000" stroke-width="0.4" stroke-linejoin="round"/>
<path d="M565.57,214.10 L568.57,219.10 L562.57,219.10 Z" fill="#000" stroke="#000" stroke-width="0.4" stroke-linejoin="round"/>
<path d="M576.88,214.00 L579.88,219.00 L573.88,219.00 Z" fill="#000" stroke="#000" stroke-width="0.4" stroke-linejoin="round"/>
<path d="M588.19,213.70 L591.19,218.70 L585.19,218.70 Z" fill="#000" stroke="#000" stroke-width="0.4" stroke-linejoin="round"/>
<path d="M599.50,213.60 L602.50,218.60 L596.50,218.60 Z" fill="#000" stroke="#000" stroke-width="0.4" stroke-linejoin="round"/>
<path d="M610.81,213.60 L613.81,218.60 L607.81,218.60 Z" fill="#000" stroke="#000" stroke-width="0.4" stroke-linejoin="round"/>
<path d="M622.12,213.30 L625.12,218.30 L619.12,218.30 Z" fill="#000" stroke="#000" stroke-width="0.4" stroke-linejoin="round"/>
<line x1="505.50" y1="282.30" x2="526.10" y2="282.30" stroke="#111" stroke-width="1.2"/>
<path d="M515.80,279.10 L518.80,284.10 L512.80,284.10 Z" fill="#000" stroke="#000" stroke-width="0.4" stroke-linejoin="round"/>
<text x="529.00" y="285.00" font-size="10.8" text-anchor="start" font-weight="normal" fill="#111" stroke="#111" stroke-width="0.25" textLength="71.6" lengthAdjust="spacingAndGlyphs" >DMACCMK-PYP</text>
<line x1="505.50" y1="295.80" x2="526.10" y2="295.80" stroke="#111" stroke-width="1.2"/>
<rect x="513.70" y="293.10" width="5.0" height="5.0" rx="1" fill="#fff" stroke="#111" stroke-width="0.9"/>
<path d="M518.70,293.10 L518.70,298.10 L513.70,298.10 Z" fill="#111"/>
<text x="529.80" y="299.10" font-size="11.2" text-anchor="start" font-weight="normal" fill="#111" stroke="#111" stroke-width="0.25" textLength="51.8" lengthAdjust="spacingAndGlyphs" >Fluorescein</text>
</svg></body></html>
